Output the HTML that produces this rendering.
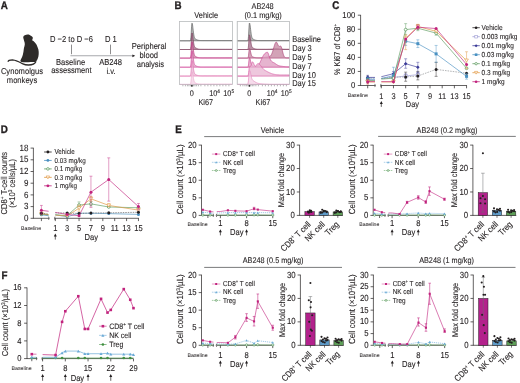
<!DOCTYPE html>
<html><head><meta charset="utf-8"><style>
html,body{margin:0;padding:0;background:#fff;width:520px;height:383px;overflow:hidden}
svg{display:block;will-change:transform}
text{font-family:"Liberation Sans", sans-serif;fill:#231f20;stroke:#231f20;stroke-width:0.09px;text-rendering:geometricPrecision}
</style></head><body>
<svg width="520" height="383" viewBox="0 0 520 383">
<rect width="520" height="383" fill="#fff"/>
<text font-size="9.8" font-weight="bold" style="stroke-width:0.3px" transform="translate(0.8 8.6) scale(1 1.13)">A</text>
<path d="M27.6,34.4 C29.2,34.4 30.4,35.1 30.9,35.8 C32,36.3 32.9,37 32.8,37.8 L32.6,39.3 C32.4,39.7 32.1,39.9 31.8,40.1 C33.3,40.9 34.3,41.8 35.1,42.8 C36.3,44.1 37.1,45.5 37.5,47.1 C38.3,48.8 38.7,50.3 38.7,51.8 C38.8,53.5 38.7,55 38.4,56.5 C38,58 37.6,59.2 37,60.2 C36.4,61 35.8,61.6 35.1,62.1 L33.2,62.1 C30,62.3 24,62.3 21.5,61.9 C20.6,61.6 20.2,61 20.5,60.2 C21.5,58.5 22.4,56.8 22.9,54.6 C23.4,52.5 23.6,50.5 23.8,48.9 C24.2,47 24.7,45.6 24.8,44.2 C24.8,43 24.6,42.2 24.3,41.4 C24,40.6 23.7,39.8 23.6,39.1 C23.3,38.2 23.1,37.3 23.3,36.7 C23.6,35.9 24.1,35.5 24.8,35.3 C25.7,34.7 26.6,34.4 27.6,34.4 Z" fill="#2e2b29" stroke="none" stroke-width="0.7" />
<path d="M35.8,61.8 C35,63.8 31.5,65 28.5,65 C26,65 24.5,64.7 22.9,63.9 C20.5,62.7 19,61.7 17.2,61.1 C15.5,60.4 14,59.9 12.5,59.8 C11,59.8 9.8,60 9.2,60.3 C8.7,60.6 8.4,60.9 8.2,61.3" fill="none" stroke="#2e2b29" stroke-width="1.35" stroke-linecap="round"/>
<text font-size="7.6" text-anchor="middle" transform="translate(22 74) scale(1 1.13)">Cynomolgus</text>
<text font-size="7.6" text-anchor="middle" transform="translate(22 83.3) scale(1 1.13)">monkeys</text>
<text font-size="7.6" text-anchor="middle" transform="translate(71.5 42) scale(1 1.13)">D −2 to D −6</text>
<text font-size="7.6" text-anchor="middle" transform="translate(110.8 42) scale(1 1.13)">D 1</text>
<line x1="70.4" y1="55.8" x2="133.2" y2="55.8" stroke="#a7a9ac" stroke-width="1.1"/>
<line x1="71.5" y1="44.6" x2="71.5" y2="54.2" stroke="#414042" stroke-width="0.6"/>
<line x1="110.5" y1="44.6" x2="110.5" y2="54.2" stroke="#414042" stroke-width="0.6"/>
<path d="M135.2,55.8 L132.4,54.4 L132.4,57.2 Z" fill="#231f20" stroke="none" stroke-width="0.7" />
<text font-size="7.6" text-anchor="middle" transform="translate(70.6 64.6) scale(1 1.13)">Baseline</text>
<text font-size="7.6" text-anchor="middle" transform="translate(71.4 73.4) scale(1 1.13)">assessment</text>
<text font-size="7.6" text-anchor="middle" transform="translate(110.6 64.6) scale(1 1.13)">AB248</text>
<text font-size="7.6" text-anchor="middle" transform="translate(111 74) scale(1 1.13)">i.v.</text>
<text font-size="7.6" text-anchor="middle" transform="translate(149 48.5) scale(1 1.13)">Peripheral</text>
<text font-size="7.6" text-anchor="middle" transform="translate(148.8 57.5) scale(1 1.13)">blood</text>
<text font-size="7.6" text-anchor="middle" transform="translate(150.4 66.5) scale(1 1.13)">analysis</text>
<text font-size="9.8" font-weight="bold" style="stroke-width:0.3px" transform="translate(174.6 8.6) scale(1 1.13)">B</text>
<text font-size="7.4" text-anchor="middle" transform="translate(206.2 17.8) scale(1 1.13)">Vehicle</text>
<text font-size="7.4" text-anchor="middle" transform="translate(262.6 8.9) scale(1 1.13)">AB248</text>
<text font-size="7.4" text-anchor="middle" transform="translate(263.1 17.8) scale(1 1.13)">(0.1 mg/kg)</text>
<rect x="179.5" y="21.6" width="52.9" height="63" fill="white" stroke="#bcbec0" stroke-width="0.6"/>
<rect x="237.2" y="21.6" width="52.3" height="63" fill="white" stroke="#bcbec0" stroke-width="0.6"/>
<path d="M179.8,40.8 L179.8,40.8 L180.13,40.8 L180.45,40.8 L180.78,40.8 L181.11,40.8 L181.43,40.8 L181.76,40.8 L182.09,40.8 L182.42,40.8 L182.74,40.8 L183.07,40.8 L183.4,40.8 L183.72,40.8 L184.05,40.8 L184.38,40.8 L184.7,40.8 L185.03,40.8 L185.36,40.8 L185.68,40.8 L186.01,40.8 L186.34,40.8 L186.66,40.8 L186.99,40.8 L187.32,40.8 L187.65,40.8 L187.97,40.8 L188.3,40.8 L188.63,40.8 L188.95,40.8 L189.28,40.8 L189.61,40.8 L189.93,40.77 L190.26,40.59 L190.59,39.79 L190.91,37.32 L191.24,32.36 L191.57,26.32 L191.89,23.24 L192.22,23.36 L192.55,24.96 L192.88,27.39 L193.2,30.16 L193.53,32.83 L193.86,35.03 L194.18,36.61 L194.51,37.65 L194.84,38.3 L195.16,38.71 L195.49,38.98 L195.82,39.19 L196.14,39.37 L196.47,39.54 L196.8,39.69 L197.12,39.84 L197.45,39.96 L197.78,40.08 L198.11,40.18 L198.43,40.26 L198.76,40.33 L199.09,40.38 L199.41,40.43 L199.74,40.46 L200.07,40.49 L200.39,40.5 L200.72,40.52 L201.05,40.53 L201.37,40.54 L201.7,40.54 L202.03,40.54 L202.35,40.55 L202.68,40.55 L203.01,40.55 L203.34,40.55 L203.66,40.55 L203.99,40.55 L204.32,40.55 L204.64,40.55 L204.97,40.55 L205.3,40.55 L205.62,40.55 L205.95,40.55 L206.28,40.55 L206.6,40.55 L206.93,40.55 L207.26,40.55 L207.58,40.55 L207.91,40.55 L208.24,40.55 L208.56,40.55 L208.89,40.55 L209.22,40.55 L209.55,40.55 L209.87,40.55 L210.2,40.55 L210.53,40.55 L210.85,40.55 L211.18,40.55 L211.51,40.55 L211.83,40.55 L212.16,40.55 L212.49,40.55 L212.81,40.55 L213.14,40.55 L213.47,40.55 L213.8,40.55 L214.12,40.55 L214.45,40.55 L214.78,40.55 L215.1,40.55 L215.43,40.55 L215.76,40.55 L216.08,40.55 L216.41,40.55 L216.74,40.55 L217.06,40.55 L217.39,40.55 L217.72,40.55 L218.04,40.55 L218.37,40.55 L218.7,40.55 L219.03,40.55 L219.35,40.55 L219.68,40.55 L220.01,40.55 L220.33,40.55 L220.66,40.55 L220.99,40.55 L221.31,40.55 L221.64,40.55 L221.97,40.55 L222.29,40.55 L222.62,40.55 L222.95,40.55 L223.27,40.55 L223.6,40.55 L223.93,40.55 L224.25,40.55 L224.58,40.55 L224.91,40.55 L225.24,40.55 L225.56,40.55 L225.89,40.55 L226.22,40.55 L226.54,40.55 L226.87,40.55 L227.2,40.55 L227.52,40.55 L227.85,40.55 L228.18,40.55 L228.5,40.55 L228.83,40.55 L229.16,40.55 L229.49,40.55 L229.81,40.55 L230.14,40.55 L230.47,40.55 L230.79,40.55 L231.12,40.55 L231.45,40.55 L231.77,40.55 L232.1,40.55 L232.1,40.8 Z" fill="#999999" stroke="#58595b" stroke-width="0.6" fill-opacity="0.75" stroke-linejoin="round"/>
<path d="M179.8,49.5 L179.8,49.5 L180.13,49.5 L180.45,49.5 L180.78,49.5 L181.11,49.5 L181.43,49.5 L181.76,49.5 L182.09,49.5 L182.42,49.5 L182.74,49.5 L183.07,49.5 L183.4,49.5 L183.72,49.5 L184.05,49.5 L184.38,49.5 L184.7,49.5 L185.03,49.5 L185.36,49.5 L185.68,49.5 L186.01,49.5 L186.34,49.5 L186.66,49.5 L186.99,49.5 L187.32,49.5 L187.65,49.5 L187.97,49.5 L188.3,49.5 L188.63,49.5 L188.95,49.5 L189.28,49.5 L189.61,49.5 L189.93,49.47 L190.26,49.3 L190.59,48.55 L190.91,46.23 L191.24,41.55 L191.57,35.88 L191.89,32.97 L192.22,33.07 L192.55,34.58 L192.88,36.87 L193.2,39.47 L193.53,41.98 L193.86,44.05 L194.18,45.54 L194.51,46.52 L194.84,47.13 L195.16,47.51 L195.49,47.77 L195.82,47.97 L196.14,48.14 L196.47,48.3 L196.8,48.44 L197.12,48.58 L197.45,48.7 L197.78,48.81 L198.11,48.9 L198.43,48.98 L198.76,49.04 L199.09,49.09 L199.41,49.13 L199.74,49.16 L200.07,49.19 L200.39,49.21 L200.72,49.22 L201.05,49.23 L201.37,49.24 L201.7,49.24 L202.03,49.24 L202.35,49.25 L202.68,49.25 L203.01,49.25 L203.34,49.25 L203.66,49.25 L203.99,49.25 L204.32,49.25 L204.64,49.25 L204.97,49.25 L205.3,49.25 L205.62,49.25 L205.95,49.25 L206.28,49.25 L206.6,49.25 L206.93,49.25 L207.26,49.25 L207.58,49.25 L207.91,49.25 L208.24,49.25 L208.56,49.25 L208.89,49.25 L209.22,49.25 L209.55,49.25 L209.87,49.25 L210.2,49.25 L210.53,49.25 L210.85,49.25 L211.18,49.25 L211.51,49.25 L211.83,49.25 L212.16,49.25 L212.49,49.25 L212.81,49.25 L213.14,49.25 L213.47,49.25 L213.8,49.25 L214.12,49.25 L214.45,49.25 L214.78,49.25 L215.1,49.25 L215.43,49.25 L215.76,49.25 L216.08,49.25 L216.41,49.25 L216.74,49.25 L217.06,49.25 L217.39,49.25 L217.72,49.25 L218.04,49.25 L218.37,49.25 L218.7,49.25 L219.03,49.25 L219.35,49.25 L219.68,49.25 L220.01,49.25 L220.33,49.25 L220.66,49.25 L220.99,49.25 L221.31,49.25 L221.64,49.25 L221.97,49.25 L222.29,49.25 L222.62,49.25 L222.95,49.25 L223.27,49.25 L223.6,49.25 L223.93,49.25 L224.25,49.25 L224.58,49.25 L224.91,49.25 L225.24,49.25 L225.56,49.25 L225.89,49.25 L226.22,49.25 L226.54,49.25 L226.87,49.25 L227.2,49.25 L227.52,49.25 L227.85,49.25 L228.18,49.25 L228.5,49.25 L228.83,49.25 L229.16,49.25 L229.49,49.25 L229.81,49.25 L230.14,49.25 L230.47,49.25 L230.79,49.25 L231.12,49.25 L231.45,49.25 L231.77,49.25 L232.1,49.25 L232.1,49.5 Z" fill="#a26a85" stroke="#7b3b5b" stroke-width="0.6" fill-opacity="0.75" stroke-linejoin="round"/>
<path d="M179.8,58.1 L179.8,58.1 L180.13,58.1 L180.45,58.1 L180.78,58.1 L181.11,58.1 L181.43,58.1 L181.76,58.1 L182.09,58.1 L182.42,58.1 L182.74,58.1 L183.07,58.1 L183.4,58.1 L183.72,58.1 L184.05,58.1 L184.38,58.1 L184.7,58.1 L185.03,58.1 L185.36,58.1 L185.68,58.1 L186.01,58.1 L186.34,58.1 L186.66,58.1 L186.99,58.1 L187.32,58.1 L187.65,58.1 L187.97,58.1 L188.3,58.1 L188.63,58.1 L188.95,58.1 L189.28,58.1 L189.61,58.1 L189.93,58.07 L190.26,57.91 L190.59,57.18 L190.91,54.93 L191.24,50.4 L191.57,44.9 L191.89,42.09 L192.22,42.18 L192.55,43.64 L192.88,45.86 L193.2,48.38 L193.53,50.81 L193.86,52.82 L194.18,54.26 L194.51,55.21 L194.84,55.8 L195.16,56.17 L195.49,56.42 L195.82,56.61 L196.14,56.78 L196.47,56.93 L196.8,57.07 L197.12,57.2 L197.45,57.32 L197.78,57.42 L198.11,57.51 L198.43,57.58 L198.76,57.65 L199.09,57.7 L199.41,57.74 L199.74,57.77 L200.07,57.79 L200.39,57.81 L200.72,57.82 L201.05,57.83 L201.37,57.84 L201.7,57.84 L202.03,57.84 L202.35,57.85 L202.68,57.85 L203.01,57.85 L203.34,57.85 L203.66,57.85 L203.99,57.85 L204.32,57.85 L204.64,57.85 L204.97,57.85 L205.3,57.85 L205.62,57.85 L205.95,57.85 L206.28,57.85 L206.6,57.85 L206.93,57.85 L207.26,57.85 L207.58,57.85 L207.91,57.85 L208.24,57.85 L208.56,57.85 L208.89,57.85 L209.22,57.85 L209.55,57.85 L209.87,57.85 L210.2,57.85 L210.53,57.85 L210.85,57.85 L211.18,57.85 L211.51,57.85 L211.83,57.85 L212.16,57.85 L212.49,57.85 L212.81,57.85 L213.14,57.85 L213.47,57.85 L213.8,57.85 L214.12,57.85 L214.45,57.85 L214.78,57.85 L215.1,57.85 L215.43,57.85 L215.76,57.85 L216.08,57.85 L216.41,57.85 L216.74,57.85 L217.06,57.85 L217.39,57.85 L217.72,57.85 L218.04,57.85 L218.37,57.85 L218.7,57.85 L219.03,57.85 L219.35,57.85 L219.68,57.85 L220.01,57.85 L220.33,57.85 L220.66,57.85 L220.99,57.85 L221.31,57.85 L221.64,57.85 L221.97,57.85 L222.29,57.85 L222.62,57.85 L222.95,57.85 L223.27,57.85 L223.6,57.85 L223.93,57.85 L224.25,57.85 L224.58,57.85 L224.91,57.85 L225.24,57.85 L225.56,57.85 L225.89,57.85 L226.22,57.85 L226.54,57.85 L226.87,57.85 L227.2,57.85 L227.52,57.85 L227.85,57.85 L228.18,57.85 L228.5,57.85 L228.83,57.85 L229.16,57.85 L229.49,57.85 L229.81,57.85 L230.14,57.85 L230.47,57.85 L230.79,57.85 L231.12,57.85 L231.45,57.85 L231.77,57.85 L232.1,57.85 L232.1,58.1 Z" fill="#c4849f" stroke="#c02a7e" stroke-width="0.6" fill-opacity="0.75" stroke-linejoin="round"/>
<path d="M179.8,67.2 L179.8,67.2 L180.13,67.2 L180.45,67.2 L180.78,67.2 L181.11,67.2 L181.43,67.2 L181.76,67.2 L182.09,67.2 L182.42,67.2 L182.74,67.2 L183.07,67.2 L183.4,67.2 L183.72,67.2 L184.05,67.2 L184.38,67.2 L184.7,67.2 L185.03,67.2 L185.36,67.2 L185.68,67.2 L186.01,67.2 L186.34,67.2 L186.66,67.2 L186.99,67.2 L187.32,67.2 L187.65,67.2 L187.97,67.2 L188.3,67.2 L188.63,67.2 L188.95,67.2 L189.28,67.2 L189.61,67.2 L189.93,67.17 L190.26,67.01 L190.59,66.28 L190.91,64.03 L191.24,59.5 L191.57,54 L191.89,51.19 L192.22,51.28 L192.55,52.74 L192.88,54.96 L193.2,57.48 L193.53,59.91 L193.86,61.92 L194.18,63.36 L194.51,64.31 L194.84,64.9 L195.16,65.27 L195.49,65.52 L195.82,65.71 L196.14,65.88 L196.47,66.03 L196.8,66.17 L197.12,66.3 L197.45,66.42 L197.78,66.52 L198.11,66.61 L198.43,66.68 L198.76,66.75 L199.09,66.8 L199.41,66.84 L199.74,66.87 L200.07,66.89 L200.39,66.91 L200.72,66.92 L201.05,66.93 L201.37,66.94 L201.7,66.94 L202.03,66.94 L202.35,66.95 L202.68,66.95 L203.01,66.95 L203.34,66.95 L203.66,66.95 L203.99,66.95 L204.32,66.95 L204.64,66.95 L204.97,66.95 L205.3,66.95 L205.62,66.95 L205.95,66.95 L206.28,66.95 L206.6,66.95 L206.93,66.95 L207.26,66.95 L207.58,66.95 L207.91,66.95 L208.24,66.95 L208.56,66.95 L208.89,66.95 L209.22,66.95 L209.55,66.95 L209.87,66.95 L210.2,66.95 L210.53,66.95 L210.85,66.95 L211.18,66.95 L211.51,66.95 L211.83,66.95 L212.16,66.95 L212.49,66.95 L212.81,66.95 L213.14,66.95 L213.47,66.95 L213.8,66.95 L214.12,66.95 L214.45,66.95 L214.78,66.95 L215.1,66.95 L215.43,66.95 L215.76,66.95 L216.08,66.95 L216.41,66.95 L216.74,66.95 L217.06,66.95 L217.39,66.95 L217.72,66.95 L218.04,66.95 L218.37,66.95 L218.7,66.95 L219.03,66.95 L219.35,66.95 L219.68,66.95 L220.01,66.95 L220.33,66.95 L220.66,66.95 L220.99,66.95 L221.31,66.95 L221.64,66.95 L221.97,66.95 L222.29,66.95 L222.62,66.95 L222.95,66.95 L223.27,66.95 L223.6,66.95 L223.93,66.95 L224.25,66.95 L224.58,66.95 L224.91,66.95 L225.24,66.95 L225.56,66.95 L225.89,66.95 L226.22,66.95 L226.54,66.95 L226.87,66.95 L227.2,66.95 L227.52,66.95 L227.85,66.95 L228.18,66.95 L228.5,66.95 L228.83,66.95 L229.16,66.95 L229.49,66.95 L229.81,66.95 L230.14,66.95 L230.47,66.95 L230.79,66.95 L231.12,66.95 L231.45,66.95 L231.77,66.95 L232.1,66.95 L232.1,67.2 Z" fill="#dd9bbf" stroke="#d2449a" stroke-width="0.6" fill-opacity="0.75" stroke-linejoin="round"/>
<path d="M179.8,76.1 L179.8,76.1 L180.13,76.1 L180.45,76.1 L180.78,76.1 L181.11,76.1 L181.43,76.1 L181.76,76.1 L182.09,76.1 L182.42,76.1 L182.74,76.1 L183.07,76.1 L183.4,76.1 L183.72,76.1 L184.05,76.1 L184.38,76.1 L184.7,76.1 L185.03,76.1 L185.36,76.1 L185.68,76.1 L186.01,76.1 L186.34,76.1 L186.66,76.1 L186.99,76.1 L187.32,76.1 L187.65,76.1 L187.97,76.1 L188.3,76.1 L188.63,76.1 L188.95,76.1 L189.28,76.1 L189.61,76.1 L189.93,76.07 L190.26,75.91 L190.59,75.21 L190.91,73.03 L191.24,68.65 L191.57,63.33 L191.89,60.6 L192.22,60.68 L192.55,62.1 L192.88,64.24 L193.2,66.68 L193.53,69.04 L193.86,70.98 L194.18,72.37 L194.51,73.29 L194.84,73.86 L195.16,74.22 L195.49,74.47 L195.82,74.65 L196.14,74.81 L196.47,74.96 L196.8,75.1 L197.12,75.22 L197.45,75.33 L197.78,75.43 L198.11,75.52 L198.43,75.59 L198.76,75.65 L199.09,75.7 L199.41,75.74 L199.74,75.77 L200.07,75.79 L200.39,75.81 L200.72,75.82 L201.05,75.83 L201.37,75.84 L201.7,75.84 L202.03,75.84 L202.35,75.85 L202.68,75.85 L203.01,75.85 L203.34,75.85 L203.66,75.85 L203.99,75.85 L204.32,75.85 L204.64,75.85 L204.97,75.85 L205.3,75.85 L205.62,75.85 L205.95,75.85 L206.28,75.85 L206.6,75.85 L206.93,75.85 L207.26,75.85 L207.58,75.85 L207.91,75.85 L208.24,75.85 L208.56,75.85 L208.89,75.85 L209.22,75.85 L209.55,75.85 L209.87,75.85 L210.2,75.85 L210.53,75.85 L210.85,75.85 L211.18,75.85 L211.51,75.85 L211.83,75.85 L212.16,75.85 L212.49,75.85 L212.81,75.85 L213.14,75.85 L213.47,75.85 L213.8,75.85 L214.12,75.85 L214.45,75.85 L214.78,75.85 L215.1,75.85 L215.43,75.85 L215.76,75.85 L216.08,75.85 L216.41,75.85 L216.74,75.85 L217.06,75.85 L217.39,75.85 L217.72,75.85 L218.04,75.85 L218.37,75.85 L218.7,75.85 L219.03,75.85 L219.35,75.85 L219.68,75.85 L220.01,75.85 L220.33,75.85 L220.66,75.85 L220.99,75.85 L221.31,75.85 L221.64,75.85 L221.97,75.85 L222.29,75.85 L222.62,75.85 L222.95,75.85 L223.27,75.85 L223.6,75.85 L223.93,75.85 L224.25,75.85 L224.58,75.85 L224.91,75.85 L225.24,75.85 L225.56,75.85 L225.89,75.85 L226.22,75.85 L226.54,75.85 L226.87,75.85 L227.2,75.85 L227.52,75.85 L227.85,75.85 L228.18,75.85 L228.5,75.85 L228.83,75.85 L229.16,75.85 L229.49,75.85 L229.81,75.85 L230.14,75.85 L230.47,75.85 L230.79,75.85 L231.12,75.85 L231.45,75.85 L231.77,75.85 L232.1,75.85 L232.1,76.1 Z" fill="#e8b4d2" stroke="#e070b0" stroke-width="0.6" fill-opacity="0.75" stroke-linejoin="round"/>
<path d="M179.8,84.4 L179.8,84.4 L180.13,84.4 L180.45,84.4 L180.78,84.4 L181.11,84.4 L181.43,84.4 L181.76,84.4 L182.09,84.4 L182.42,84.4 L182.74,84.4 L183.07,84.4 L183.4,84.4 L183.72,84.4 L184.05,84.4 L184.38,84.4 L184.7,84.4 L185.03,84.4 L185.36,84.4 L185.68,84.4 L186.01,84.4 L186.34,84.4 L186.66,84.4 L186.99,84.4 L187.32,84.4 L187.65,84.4 L187.97,84.4 L188.3,84.4 L188.63,84.4 L188.95,84.4 L189.28,84.4 L189.61,84.4 L189.93,84.38 L190.26,84.25 L190.59,83.69 L190.91,81.95 L191.24,78.44 L191.57,74.18 L191.89,72 L192.22,72.02 L192.55,73.15 L192.88,74.86 L193.2,76.82 L193.53,78.7 L193.86,80.25 L194.18,81.37 L194.51,82.1 L194.84,82.56 L195.16,82.85 L195.49,83.04 L195.82,83.19 L196.14,83.32 L196.47,83.44 L196.8,83.55 L197.12,83.65 L197.45,83.74 L197.78,83.82 L198.11,83.89 L198.43,83.94 L198.76,83.99 L199.09,84.03 L199.41,84.06 L199.74,84.09 L200.07,84.1 L200.39,84.12 L200.72,84.13 L201.05,84.13 L201.37,84.14 L201.7,84.14 L202.03,84.15 L202.35,84.15 L202.68,84.15 L203.01,84.15 L203.34,84.15 L203.66,84.15 L203.99,84.15 L204.32,84.15 L204.64,84.15 L204.97,84.15 L205.3,84.15 L205.62,84.15 L205.95,84.15 L206.28,84.15 L206.6,84.15 L206.93,84.15 L207.26,84.15 L207.58,84.15 L207.91,84.15 L208.24,84.15 L208.56,84.15 L208.89,84.15 L209.22,84.15 L209.55,84.15 L209.87,84.15 L210.2,84.15 L210.53,84.15 L210.85,84.15 L211.18,84.15 L211.51,84.15 L211.83,84.15 L212.16,84.15 L212.49,84.15 L212.81,84.15 L213.14,84.15 L213.47,84.15 L213.8,84.15 L214.12,84.15 L214.45,84.15 L214.78,84.15 L215.1,84.15 L215.43,84.15 L215.76,84.15 L216.08,84.15 L216.41,84.15 L216.74,84.15 L217.06,84.15 L217.39,84.15 L217.72,84.15 L218.04,84.15 L218.37,84.15 L218.7,84.15 L219.03,84.15 L219.35,84.15 L219.68,84.15 L220.01,84.15 L220.33,84.15 L220.66,84.15 L220.99,84.15 L221.31,84.15 L221.64,84.15 L221.97,84.15 L222.29,84.15 L222.62,84.15 L222.95,84.15 L223.27,84.15 L223.6,84.15 L223.93,84.15 L224.25,84.15 L224.58,84.15 L224.91,84.15 L225.24,84.15 L225.56,84.15 L225.89,84.15 L226.22,84.15 L226.54,84.15 L226.87,84.15 L227.2,84.15 L227.52,84.15 L227.85,84.15 L228.18,84.15 L228.5,84.15 L228.83,84.15 L229.16,84.15 L229.49,84.15 L229.81,84.15 L230.14,84.15 L230.47,84.15 L230.79,84.15 L231.12,84.15 L231.45,84.15 L231.77,84.15 L232.1,84.15 L232.1,84.4 Z" fill="#f3d0e4" stroke="#eca6cc" stroke-width="0.6" fill-opacity="0.75" stroke-linejoin="round"/>
<path d="M237.5,40.8 L237.5,40.8 L237.72,40.8 L237.93,40.8 L238.15,40.8 L238.36,40.8 L238.58,40.8 L238.79,40.8 L239.01,40.8 L239.22,40.8 L239.44,40.8 L239.65,40.8 L239.87,40.8 L240.09,40.8 L240.3,40.8 L240.52,40.8 L240.73,40.8 L240.95,40.8 L241.16,40.8 L241.38,40.8 L241.59,40.8 L241.81,40.8 L242.02,40.8 L242.24,40.8 L242.45,40.8 L242.67,40.8 L242.89,40.8 L243.1,40.8 L243.32,40.8 L243.53,40.8 L243.75,40.8 L243.96,40.8 L244.18,40.8 L244.39,40.8 L244.61,40.8 L244.82,40.8 L245.04,40.8 L245.25,40.8 L245.47,40.8 L245.69,40.8 L245.9,40.8 L246.12,40.8 L246.33,40.8 L246.55,40.8 L246.76,40.8 L246.98,40.8 L247.19,40.79 L247.41,40.77 L247.62,40.7 L247.84,40.48 L248.06,39.92 L248.27,38.68 L248.49,36.44 L248.7,33.06 L248.92,29 L249.13,25.34 L249.35,23.35 L249.56,23.01 L249.78,23.56 L249.99,24.63 L250.21,26.09 L250.42,27.81 L250.64,29.64 L250.86,31.45 L251.07,33.15 L251.29,34.62 L251.5,35.81 L251.72,36.74 L251.93,37.45 L252.15,37.96 L252.36,38.34 L252.58,38.62 L252.79,38.83 L253.01,39 L253.23,39.14 L253.44,39.26 L253.66,39.38 L253.87,39.49 L254.09,39.6 L254.3,39.7 L254.52,39.79 L254.73,39.88 L254.95,39.96 L255.16,40.04 L255.38,40.11 L255.59,40.17 L255.81,40.23 L256.03,40.28 L256.24,40.32 L256.46,40.36 L256.67,40.39 L256.89,40.42 L257.1,40.45 L257.32,40.47 L257.53,40.48 L257.75,40.5 L257.96,40.51 L258.18,40.52 L258.4,40.52 L258.61,40.53 L258.83,40.53 L259.04,40.54 L259.26,40.54 L259.47,40.54 L259.69,40.55 L259.9,40.55 L260.12,40.55 L260.33,40.55 L260.55,40.55 L260.76,40.55 L260.98,40.55 L261.2,40.55 L261.41,40.55 L261.63,40.55 L261.84,40.55 L262.06,40.55 L262.27,40.55 L262.49,40.55 L262.7,40.55 L262.92,40.55 L263.13,40.55 L263.35,40.55 L263.57,40.55 L263.78,40.55 L264,40.55 L264.21,40.55 L264.43,40.55 L264.64,40.55 L264.86,40.55 L265.07,40.55 L265.29,40.55 L265.5,40.55 L265.72,40.55 L265.94,40.55 L266.15,40.55 L266.37,40.55 L266.58,40.55 L266.8,40.55 L267.01,40.55 L267.23,40.55 L267.44,40.55 L267.66,40.55 L267.87,40.55 L268.09,40.55 L268.3,40.55 L268.52,40.55 L268.74,40.55 L268.95,40.55 L269.17,40.55 L269.38,40.55 L269.6,40.55 L269.81,40.55 L270.03,40.55 L270.24,40.55 L270.46,40.55 L270.67,40.55 L270.89,40.55 L271.11,40.55 L271.32,40.55 L271.54,40.55 L271.75,40.55 L271.97,40.55 L272.18,40.55 L272.4,40.55 L272.61,40.55 L272.83,40.55 L273.04,40.55 L273.26,40.55 L273.47,40.55 L273.69,40.55 L273.91,40.55 L274.12,40.55 L274.34,40.55 L274.55,40.55 L274.77,40.55 L274.98,40.55 L275.2,40.55 L275.41,40.55 L275.63,40.55 L275.84,40.55 L276.06,40.55 L276.27,40.55 L276.49,40.55 L276.71,40.55 L276.92,40.55 L277.14,40.55 L277.35,40.55 L277.57,40.55 L277.78,40.55 L278,40.55 L278.21,40.55 L278.43,40.55 L278.64,40.55 L278.86,40.55 L279.08,40.55 L279.29,40.55 L279.51,40.55 L279.72,40.55 L279.94,40.55 L280.15,40.55 L280.37,40.55 L280.58,40.55 L280.8,40.55 L281.01,40.55 L281.23,40.55 L281.44,40.55 L281.66,40.55 L281.88,40.55 L282.09,40.55 L282.31,40.55 L282.52,40.55 L282.74,40.55 L282.95,40.55 L283.17,40.55 L283.38,40.55 L283.6,40.55 L283.81,40.55 L284.03,40.55 L284.25,40.55 L284.46,40.55 L284.68,40.55 L284.89,40.55 L285.11,40.55 L285.32,40.55 L285.54,40.55 L285.75,40.55 L285.97,40.55 L286.18,40.55 L286.4,40.55 L286.62,40.55 L286.83,40.55 L287.05,40.55 L287.26,40.55 L287.48,40.55 L287.69,40.55 L287.91,40.55 L288.12,40.55 L288.34,40.55 L288.55,40.55 L288.77,40.55 L288.98,40.55 L289.2,40.55 L289.2,40.8 Z" fill="#999999" stroke="#666666" stroke-width="0.7" fill-opacity="0.75" stroke-linejoin="round"/>
<path d="M237.5,49.5 L237.5,49.5 L237.72,49.5 L237.93,49.5 L238.15,49.5 L238.36,49.5 L238.58,49.5 L238.79,49.5 L239.01,49.5 L239.22,49.5 L239.44,49.5 L239.65,49.5 L239.87,49.5 L240.09,49.5 L240.3,49.5 L240.52,49.5 L240.73,49.5 L240.95,49.5 L241.16,49.5 L241.38,49.5 L241.59,49.5 L241.81,49.5 L242.02,49.5 L242.24,49.5 L242.45,49.5 L242.67,49.5 L242.89,49.5 L243.1,49.5 L243.32,49.5 L243.53,49.5 L243.75,49.5 L243.96,49.5 L244.18,49.5 L244.39,49.5 L244.61,49.5 L244.82,49.5 L245.04,49.5 L245.25,49.5 L245.47,49.5 L245.69,49.5 L245.9,49.5 L246.12,49.5 L246.33,49.5 L246.55,49.5 L246.76,49.5 L246.98,49.5 L247.19,49.49 L247.41,49.48 L247.62,49.42 L247.84,49.24 L248.06,48.77 L248.27,47.76 L248.49,45.91 L248.7,43.13 L248.92,39.79 L249.13,36.77 L249.35,35.13 L249.56,34.8 L249.78,35.26 L249.99,36.14 L250.21,37.34 L250.42,38.76 L250.64,40.26 L250.86,41.76 L251.07,43.16 L251.29,44.36 L251.5,45.35 L251.72,46.12 L251.93,46.69 L252.15,47.12 L252.36,47.43 L252.58,47.66 L252.79,47.83 L253.01,47.97 L253.23,48.09 L253.44,48.19 L253.66,48.29 L253.87,48.38 L254.09,48.46 L254.3,48.55 L254.52,48.63 L254.73,48.7 L254.95,48.77 L255.16,48.83 L255.38,48.89 L255.59,48.94 L255.81,48.99 L256.03,49.03 L256.24,49.06 L256.46,49.09 L256.67,49.12 L256.89,49.15 L257.1,49.16 L257.32,49.18 L257.53,49.19 L257.75,49.21 L257.96,49.22 L258.18,49.22 L258.4,49.23 L258.61,49.23 L258.83,49.24 L259.04,49.24 L259.26,49.24 L259.47,49.24 L259.69,49.25 L259.9,49.25 L260.12,49.25 L260.33,49.25 L260.55,49.25 L260.76,49.25 L260.98,49.25 L261.2,49.25 L261.41,49.25 L261.63,49.25 L261.84,49.25 L262.06,49.25 L262.27,49.25 L262.49,49.25 L262.7,49.25 L262.92,49.25 L263.13,49.25 L263.35,49.25 L263.57,49.25 L263.78,49.25 L264,49.25 L264.21,49.25 L264.43,49.25 L264.64,49.25 L264.86,49.25 L265.07,49.25 L265.29,49.25 L265.5,49.25 L265.72,49.25 L265.94,49.25 L266.15,49.25 L266.37,49.25 L266.58,49.25 L266.8,49.24 L267.01,49.24 L267.23,49.24 L267.44,49.24 L267.66,49.24 L267.87,49.23 L268.09,49.23 L268.3,49.23 L268.52,49.22 L268.74,49.22 L268.95,49.21 L269.17,49.21 L269.38,49.2 L269.6,49.19 L269.81,49.18 L270.03,49.17 L270.24,49.15 L270.46,49.14 L270.67,49.13 L270.89,49.11 L271.11,49.09 L271.32,49.07 L271.54,49.05 L271.75,49.03 L271.97,49.01 L272.18,48.98 L272.4,48.96 L272.61,48.93 L272.83,48.91 L273.04,48.88 L273.26,48.85 L273.47,48.83 L273.69,48.8 L273.91,48.78 L274.12,48.76 L274.34,48.74 L274.55,48.72 L274.77,48.7 L274.98,48.68 L275.2,48.67 L275.41,48.66 L275.63,48.65 L275.84,48.65 L276.06,48.65 L276.27,48.65 L276.49,48.66 L276.71,48.67 L276.92,48.68 L277.14,48.69 L277.35,48.71 L277.57,48.73 L277.78,48.75 L278,48.77 L278.21,48.79 L278.43,48.82 L278.64,48.84 L278.86,48.87 L279.08,48.9 L279.29,48.92 L279.51,48.95 L279.72,48.97 L279.94,49 L280.15,49.02 L280.37,49.04 L280.58,49.06 L280.8,49.08 L281.01,49.1 L281.23,49.12 L281.44,49.13 L281.66,49.15 L281.88,49.16 L282.09,49.17 L282.31,49.18 L282.52,49.19 L282.74,49.2 L282.95,49.21 L283.17,49.22 L283.38,49.22 L283.6,49.23 L283.81,49.23 L284.03,49.23 L284.25,49.24 L284.46,49.24 L284.68,49.24 L284.89,49.24 L285.11,49.24 L285.32,49.25 L285.54,49.25 L285.75,49.25 L285.97,49.25 L286.18,49.25 L286.4,49.25 L286.62,49.25 L286.83,49.25 L287.05,49.25 L287.26,49.25 L287.48,49.25 L287.69,49.25 L287.91,49.25 L288.12,49.25 L288.34,49.25 L288.55,49.25 L288.77,49.25 L288.98,49.25 L289.2,49.25 L289.2,49.5 Z" fill="#a26a85" stroke="#874766" stroke-width="0.7" fill-opacity="0.75" stroke-linejoin="round"/>
<path d="M237.5,58.1 L237.5,58.1 L237.72,58.1 L237.93,58.1 L238.15,58.1 L238.36,58.1 L238.58,58.1 L238.79,58.1 L239.01,58.1 L239.22,58.1 L239.44,58.1 L239.65,58.1 L239.87,58.1 L240.09,58.1 L240.3,58.1 L240.52,58.1 L240.73,58.1 L240.95,58.1 L241.16,58.1 L241.38,58.1 L241.59,58.1 L241.81,58.1 L242.02,58.1 L242.24,58.1 L242.45,58.1 L242.67,58.1 L242.89,58.1 L243.1,58.1 L243.32,58.1 L243.53,58.1 L243.75,58.1 L243.96,58.1 L244.18,58.1 L244.39,58.1 L244.61,58.1 L244.82,58.1 L245.04,58.1 L245.25,58.1 L245.47,58.1 L245.69,58.1 L245.9,58.1 L246.12,58.1 L246.33,58.1 L246.55,58.1 L246.76,58.1 L246.98,58.1 L247.19,58.1 L247.41,58.09 L247.62,58.05 L247.84,57.93 L248.06,57.63 L248.27,56.98 L248.49,55.79 L248.7,54 L248.92,51.86 L249.13,49.92 L249.35,48.86 L249.56,48.56 L249.78,48.86 L249.99,49.42 L250.21,50.2 L250.42,51.1 L250.64,52.07 L250.86,53.03 L251.07,53.93 L251.29,54.71 L251.5,55.34 L251.72,55.84 L251.93,56.21 L252.15,56.48 L252.36,56.68 L252.58,56.83 L252.79,56.94 L253.01,57.03 L253.23,57.1 L253.44,57.17 L253.66,57.23 L253.87,57.29 L254.09,57.35 L254.3,57.4 L254.52,57.45 L254.73,57.5 L254.95,57.54 L255.16,57.58 L255.38,57.62 L255.59,57.65 L255.81,57.68 L256.03,57.71 L256.24,57.73 L256.46,57.75 L256.67,57.77 L256.89,57.78 L257.1,57.79 L257.32,57.8 L257.53,57.81 L257.75,57.82 L257.96,57.82 L258.18,57.83 L258.4,57.83 L258.61,57.83 L258.83,57.83 L259.04,57.83 L259.26,57.83 L259.47,57.83 L259.69,57.83 L259.9,57.83 L260.12,57.82 L260.33,57.82 L260.55,57.81 L260.76,57.81 L260.98,57.8 L261.2,57.79 L261.41,57.78 L261.63,57.77 L261.84,57.75 L262.06,57.74 L262.27,57.72 L262.49,57.7 L262.7,57.68 L262.92,57.66 L263.13,57.64 L263.35,57.61 L263.57,57.58 L263.78,57.55 L264,57.52 L264.21,57.49 L264.43,57.46 L264.64,57.42 L264.86,57.39 L265.07,57.35 L265.29,57.32 L265.5,57.28 L265.72,57.25 L265.94,57.21 L266.15,57.18 L266.37,57.15 L266.58,57.12 L266.8,57.09 L267.01,57.06 L267.23,57.04 L267.44,57.01 L267.66,56.98 L267.87,56.96 L268.09,56.93 L268.3,56.9 L268.52,56.86 L268.74,56.82 L268.95,56.77 L269.17,56.71 L269.38,56.63 L269.6,56.54 L269.81,56.42 L270.03,56.28 L270.24,56.11 L270.46,55.92 L270.67,55.68 L270.89,55.41 L271.11,55.09 L271.32,54.74 L271.54,54.33 L271.75,53.87 L271.97,53.37 L272.18,52.82 L272.4,52.22 L272.61,51.58 L272.83,50.9 L273.04,50.19 L273.26,49.45 L273.47,48.69 L273.69,47.93 L273.91,47.17 L274.12,46.42 L274.34,45.7 L274.55,45.01 L274.77,44.38 L274.98,43.81 L275.2,43.31 L275.41,42.89 L275.63,42.55 L275.84,42.31 L276.06,42.17 L276.27,42.11 L276.49,42.18 L276.71,42.37 L276.92,42.67 L277.14,43.05 L277.35,43.5 L277.57,43.98 L277.78,44.48 L278,44.96 L278.21,45.39 L278.43,45.76 L278.64,46.05 L278.86,46.25 L279.08,46.36 L279.29,46.38 L279.51,46.34 L279.72,46.25 L279.94,46.14 L280.15,46.05 L280.37,46.01 L280.58,46.04 L280.8,46.17 L281.01,46.43 L281.23,46.81 L281.44,47.32 L281.66,47.95 L281.88,48.68 L282.09,49.49 L282.31,50.35 L282.52,51.24 L282.74,52.12 L282.95,52.96 L283.17,53.75 L283.38,54.48 L283.6,55.12 L283.81,55.68 L284.03,56.16 L284.25,56.55 L284.46,56.87 L284.68,57.13 L284.89,57.32 L285.11,57.47 L285.32,57.59 L285.54,57.67 L285.75,57.73 L285.97,57.77 L286.18,57.8 L286.4,57.82 L286.62,57.83 L286.83,57.84 L287.05,57.84 L287.26,57.85 L287.48,57.85 L287.69,57.85 L287.91,57.85 L288.12,57.85 L288.34,57.85 L288.55,57.85 L288.77,57.85 L288.98,57.85 L289.2,57.85 L289.2,58.1 Z" fill="#c4849f" stroke="#b04a7c" stroke-width="0.7" fill-opacity="0.75" stroke-linejoin="round"/>
<path d="M237.5,67.2 L237.5,67.2 L237.72,67.2 L237.93,67.2 L238.15,67.2 L238.36,67.2 L238.58,67.2 L238.79,67.2 L239.01,67.2 L239.22,67.2 L239.44,67.2 L239.65,67.2 L239.87,67.2 L240.09,67.2 L240.3,67.2 L240.52,67.2 L240.73,67.2 L240.95,67.2 L241.16,67.2 L241.38,67.2 L241.59,67.2 L241.81,67.2 L242.02,67.2 L242.24,67.2 L242.45,67.2 L242.67,67.2 L242.89,67.2 L243.1,67.2 L243.32,67.2 L243.53,67.2 L243.75,67.2 L243.96,67.2 L244.18,67.2 L244.39,67.2 L244.61,67.2 L244.82,67.2 L245.04,67.2 L245.25,67.2 L245.47,67.2 L245.69,67.2 L245.9,67.2 L246.12,67.2 L246.33,67.2 L246.55,67.2 L246.76,67.2 L246.98,67.2 L247.19,67.2 L247.41,67.19 L247.62,67.15 L247.84,67.03 L248.06,66.73 L248.27,66.08 L248.49,64.89 L248.7,63.1 L248.92,60.95 L249.13,59.01 L249.35,57.96 L249.56,57.66 L249.78,57.95 L249.99,58.52 L250.21,59.29 L250.42,60.2 L250.64,61.17 L250.86,62.13 L251.07,63.02 L251.29,63.8 L251.5,64.43 L251.72,64.92 L251.93,65.29 L252.15,65.56 L252.36,65.76 L252.58,65.9 L252.79,66 L253.01,66.08 L253.23,66.15 L253.44,66.21 L253.66,66.26 L253.87,66.3 L254.09,66.34 L254.3,66.38 L254.52,66.41 L254.73,66.43 L254.95,66.44 L255.16,66.45 L255.38,66.45 L255.59,66.44 L255.81,66.42 L256.03,66.39 L256.24,66.34 L256.46,66.29 L256.67,66.21 L256.89,66.13 L257.1,66.03 L257.32,65.91 L257.53,65.77 L257.75,65.61 L257.96,65.43 L258.18,65.22 L258.4,65 L258.61,64.74 L258.83,64.47 L259.04,64.16 L259.26,63.83 L259.47,63.48 L259.69,63.1 L259.9,62.69 L260.12,62.26 L260.33,61.82 L260.55,61.36 L260.76,60.89 L260.98,60.4 L261.2,59.91 L261.41,59.42 L261.63,58.94 L261.84,58.46 L262.06,57.98 L262.27,57.53 L262.49,57.08 L262.7,56.66 L262.92,56.25 L263.13,55.87 L263.35,55.5 L263.57,55.16 L263.78,54.84 L264,54.54 L264.21,54.26 L264.43,54 L264.64,53.76 L264.86,53.54 L265.07,53.34 L265.29,53.15 L265.5,52.98 L265.72,52.83 L265.94,52.7 L266.15,52.58 L266.37,52.48 L266.58,52.4 L266.8,52.34 L267.01,52.29 L267.23,52.26 L267.44,52.27 L267.66,52.42 L267.87,52.69 L268.09,53.09 L268.3,53.59 L268.52,54.18 L268.74,54.82 L268.95,55.5 L269.17,56.2 L269.38,56.88 L269.6,57.55 L269.81,58.17 L270.03,58.74 L270.24,59.26 L270.46,59.71 L270.67,60.11 L270.89,60.45 L271.11,60.74 L271.32,60.99 L271.54,61.22 L271.75,61.42 L271.97,61.61 L272.18,61.79 L272.4,61.94 L272.61,62.08 L272.83,62.2 L273.04,62.31 L273.26,62.42 L273.47,62.53 L273.69,62.64 L273.91,62.76 L274.12,62.87 L274.34,63 L274.55,63.13 L274.77,63.27 L274.98,63.41 L275.2,63.55 L275.41,63.7 L275.63,63.85 L275.84,64.01 L276.06,64.16 L276.27,64.31 L276.49,64.46 L276.71,64.6 L276.92,64.74 L277.14,64.86 L277.35,64.99 L277.57,65.1 L277.78,65.21 L278,65.31 L278.21,65.41 L278.43,65.5 L278.64,65.58 L278.86,65.66 L279.08,65.73 L279.29,65.79 L279.51,65.85 L279.72,65.91 L279.94,65.96 L280.15,66.01 L280.37,66.05 L280.58,66.09 L280.8,66.13 L281.01,66.17 L281.23,66.2 L281.44,66.24 L281.66,66.27 L281.88,66.3 L282.09,66.32 L282.31,66.35 L282.52,66.38 L282.74,66.4 L282.95,66.43 L283.17,66.45 L283.38,66.47 L283.6,66.5 L283.81,66.52 L284.03,66.54 L284.25,66.56 L284.46,66.58 L284.68,66.6 L284.89,66.62 L285.11,66.63 L285.32,66.65 L285.54,66.67 L285.75,66.68 L285.97,66.7 L286.18,66.71 L286.4,66.73 L286.62,66.74 L286.83,66.75 L287.05,66.77 L287.26,66.78 L287.48,66.79 L287.69,66.8 L287.91,66.81 L288.12,66.82 L288.34,66.83 L288.55,66.84 L288.77,66.85 L288.98,66.85 L289.2,66.86 L289.2,67.2 Z" fill="#dd9bbf" stroke="#cc4a93" stroke-width="0.7" fill-opacity="0.75" stroke-linejoin="round"/>
<path d="M237.5,76.1 L237.5,76.1 L237.72,76.1 L237.93,76.1 L238.15,76.1 L238.36,76.1 L238.58,76.1 L238.79,76.1 L239.01,76.1 L239.22,76.1 L239.44,76.1 L239.65,76.1 L239.87,76.1 L240.09,76.1 L240.3,76.1 L240.52,76.1 L240.73,76.1 L240.95,76.1 L241.16,76.1 L241.38,76.1 L241.59,76.1 L241.81,76.1 L242.02,76.1 L242.24,76.1 L242.45,76.1 L242.67,76.1 L242.89,76.1 L243.1,76.1 L243.32,76.1 L243.53,76.1 L243.75,76.1 L243.96,76.1 L244.18,76.1 L244.39,76.1 L244.61,76.1 L244.82,76.1 L245.04,76.1 L245.25,76.1 L245.47,76.1 L245.69,76.1 L245.9,76.1 L246.12,76.1 L246.33,76.1 L246.55,76.1 L246.76,76.1 L246.98,76.1 L247.19,76.09 L247.41,76.08 L247.62,76.04 L247.84,75.93 L248.06,75.65 L248.27,75.04 L248.49,73.94 L248.7,72.28 L248.92,70.27 L249.13,68.39 L249.35,67.23 L249.56,66.63 L249.78,66.47 L249.99,66.43 L250.21,66.43 L250.42,66.39 L250.64,66.27 L250.86,66 L251.07,65.58 L251.29,65.01 L251.5,64.31 L251.72,63.58 L251.93,62.9 L252.15,62.34 L252.36,61.99 L252.58,61.87 L252.79,61.93 L253.01,62.13 L253.23,62.48 L253.44,62.93 L253.66,63.45 L253.87,64.01 L254.09,64.56 L254.3,65.07 L254.52,65.52 L254.73,65.87 L254.95,66.11 L255.16,66.23 L255.38,66.25 L255.59,66.16 L255.81,65.98 L256.03,65.73 L256.24,65.44 L256.46,65.11 L256.67,64.78 L256.89,64.46 L257.1,64.17 L257.32,63.93 L257.53,63.75 L257.75,63.64 L257.96,63.58 L258.18,63.56 L258.4,63.58 L258.61,63.64 L258.83,63.73 L259.04,63.85 L259.26,64.01 L259.47,64.19 L259.69,64.4 L259.9,64.63 L260.12,64.88 L260.33,65.15 L260.55,65.43 L260.76,65.72 L260.98,66.02 L261.2,66.32 L261.41,66.63 L261.63,66.93 L261.84,67.24 L262.06,67.53 L262.27,67.78 L262.49,68.03 L262.7,68.28 L262.92,68.52 L263.13,68.76 L263.35,69 L263.57,69.23 L263.78,69.45 L264,69.65 L264.21,69.84 L264.43,70.01 L264.64,70.17 L264.86,70.32 L265.07,70.45 L265.29,70.57 L265.5,70.68 L265.72,70.79 L265.94,70.88 L266.15,71.01 L266.37,71.14 L266.58,71.26 L266.8,71.39 L267.01,71.51 L267.23,71.62 L267.44,71.73 L267.66,71.84 L267.87,71.95 L268.09,72.06 L268.3,72.17 L268.52,72.27 L268.74,72.37 L268.95,72.48 L269.17,72.58 L269.38,72.68 L269.6,72.77 L269.81,72.87 L270.03,72.96 L270.24,73.06 L270.46,73.15 L270.67,73.24 L270.89,73.33 L271.11,73.41 L271.32,73.49 L271.54,73.57 L271.75,73.65 L271.97,73.73 L272.18,73.8 L272.4,73.87 L272.61,73.94 L272.83,74 L273.04,74.06 L273.26,74.12 L273.47,74.18 L273.69,74.23 L273.91,74.28 L274.12,74.33 L274.34,74.38 L274.55,74.42 L274.77,74.46 L274.98,74.5 L275.2,74.53 L275.41,74.57 L275.63,74.6 L275.84,74.63 L276.06,74.66 L276.27,74.68 L276.49,74.7 L276.71,74.73 L276.92,74.75 L277.14,74.77 L277.35,74.78 L277.57,74.8 L277.78,74.81 L278,74.83 L278.21,74.84 L278.43,74.85 L278.64,74.86 L278.86,74.87 L279.08,74.88 L279.29,74.89 L279.51,74.89 L279.72,74.9 L279.94,74.9 L280.15,74.91 L280.37,74.91 L280.58,74.92 L280.8,74.92 L281.01,74.92 L281.23,74.93 L281.44,74.93 L281.66,74.93 L281.88,74.93 L282.09,74.94 L282.31,74.94 L282.52,74.94 L282.74,74.94 L282.95,74.94 L283.17,74.94 L283.38,74.94 L283.6,74.94 L283.81,74.95 L284.03,74.95 L284.25,74.95 L284.46,74.95 L284.68,74.95 L284.89,74.95 L285.11,74.95 L285.32,74.95 L285.54,74.95 L285.75,74.95 L285.97,74.95 L286.18,74.95 L286.4,74.95 L286.62,74.95 L286.83,74.95 L287.05,74.95 L287.26,74.95 L287.48,74.95 L287.69,74.95 L287.91,74.95 L288.12,74.95 L288.34,74.95 L288.55,74.95 L288.77,74.95 L288.98,74.95 L289.2,74.95 L289.2,76.1 Z" fill="#e8b4d2" stroke="#d862a6" stroke-width="0.7" fill-opacity="0.75" stroke-linejoin="round"/>
<path d="M237.5,84.4 L237.5,84.4 L237.72,84.4 L237.93,84.4 L238.15,84.4 L238.36,84.4 L238.58,84.4 L238.79,84.4 L239.01,84.4 L239.22,84.4 L239.44,84.4 L239.65,84.4 L239.87,84.4 L240.09,84.4 L240.3,84.4 L240.52,84.4 L240.73,84.4 L240.95,84.4 L241.16,84.4 L241.38,84.4 L241.59,84.4 L241.81,84.4 L242.02,84.4 L242.24,84.4 L242.45,84.4 L242.67,84.4 L242.89,84.4 L243.1,84.4 L243.32,84.4 L243.53,84.4 L243.75,84.4 L243.96,84.4 L244.18,84.4 L244.39,84.4 L244.61,84.4 L244.82,84.4 L245.04,84.4 L245.25,84.4 L245.47,84.4 L245.69,84.4 L245.9,84.4 L246.12,84.4 L246.33,84.39 L246.55,84.39 L246.76,84.38 L246.98,84.37 L247.19,84.35 L247.41,84.29 L247.62,84.16 L247.84,83.85 L248.06,83.2 L248.27,82.03 L248.49,80.16 L248.7,77.62 L248.92,74.78 L249.13,72.29 L249.35,70.83 L249.56,70.48 L249.78,70.51 L249.99,70.86 L250.21,71.5 L250.42,72.36 L250.64,73.38 L250.86,74.5 L251.07,75.64 L251.29,76.7 L251.5,77.6 L251.72,78.35 L251.93,78.95 L252.15,79.43 L252.36,79.8 L252.58,80.08 L252.79,80.31 L253.01,80.5 L253.23,80.66 L253.44,80.81 L253.66,80.95 L253.87,81.09 L254.09,81.23 L254.3,81.37 L254.52,81.5 L254.73,81.64 L254.95,81.78 L255.16,81.92 L255.38,82.05 L255.59,82.18 L255.81,82.31 L256.03,82.43 L256.24,82.55 L256.46,82.67 L256.67,82.77 L256.89,82.87 L257.1,82.96 L257.32,83.05 L257.53,83.13 L257.75,83.2 L257.96,83.27 L258.18,83.33 L258.4,83.38 L258.61,83.44 L258.83,83.48 L259.04,83.53 L259.26,83.57 L259.47,83.6 L259.69,83.64 L259.9,83.67 L260.12,83.7 L260.33,83.73 L260.55,83.75 L260.76,83.78 L260.98,83.8 L261.2,83.83 L261.41,83.85 L261.63,83.87 L261.84,83.89 L262.06,83.91 L262.27,83.93 L262.49,83.95 L262.7,83.97 L262.92,83.98 L263.13,84 L263.35,84.02 L263.57,84.04 L263.78,84.05 L264,84.07 L264.21,84.09 L264.43,84.1 L264.64,84.12 L264.86,84.13 L265.07,84.14 L265.29,84.16 L265.5,84.17 L265.72,84.18 L265.94,84.2 L266.15,84.21 L266.37,84.22 L266.58,84.23 L266.8,84.24 L267.01,84.25 L267.23,84.26 L267.44,84.27 L267.66,84.28 L267.87,84.29 L268.09,84.29 L268.3,84.3 L268.52,84.31 L268.74,84.32 L268.95,84.32 L269.17,84.33 L269.38,84.33 L269.6,84.34 L269.81,84.34 L270.03,84.35 L270.24,84.35 L270.46,84.36 L270.67,84.36 L270.89,84.36 L271.11,84.37 L271.32,84.37 L271.54,84.37 L271.75,84.37 L271.97,84.38 L272.18,84.38 L272.4,84.38 L272.61,84.38 L272.83,84.38 L273.04,84.39 L273.26,84.39 L273.47,84.39 L273.69,84.39 L273.91,84.39 L274.12,84.39 L274.34,84.39 L274.55,84.39 L274.77,84.39 L274.98,84.39 L275.2,84.4 L275.41,84.4 L275.63,84.4 L275.84,84.4 L276.06,84.4 L276.27,84.4 L276.49,84.4 L276.71,84.4 L276.92,84.4 L277.14,84.4 L277.35,84.4 L277.57,84.4 L277.78,84.4 L278,84.4 L278.21,84.4 L278.43,84.4 L278.64,84.4 L278.86,84.4 L279.08,84.4 L279.29,84.4 L279.51,84.4 L279.72,84.4 L279.94,84.4 L280.15,84.4 L280.37,84.4 L280.58,84.4 L280.8,84.4 L281.01,84.4 L281.23,84.4 L281.44,84.4 L281.66,84.4 L281.88,84.4 L282.09,84.4 L282.31,84.4 L282.52,84.4 L282.74,84.4 L282.95,84.4 L283.17,84.4 L283.38,84.4 L283.6,84.4 L283.81,84.4 L284.03,84.4 L284.25,84.4 L284.46,84.4 L284.68,84.4 L284.89,84.4 L285.11,84.4 L285.32,84.4 L285.54,84.4 L285.75,84.4 L285.97,84.4 L286.18,84.4 L286.4,84.4 L286.62,84.4 L286.83,84.4 L287.05,84.4 L287.26,84.4 L287.48,84.4 L287.69,84.4 L287.91,84.4 L288.12,84.4 L288.34,84.4 L288.55,84.4 L288.77,84.4 L288.98,84.4 L289.2,84.4 L289.2,84.4 Z" fill="#f3d0e4" stroke="#e48cbe" stroke-width="0.7" fill-opacity="0.75" stroke-linejoin="round"/>
<rect x="179.5" y="21.6" width="52.9" height="63" fill="none" stroke="#bcbec0" stroke-width="0.6"/>
<rect x="237.2" y="21.6" width="52.3" height="63" fill="none" stroke="#bcbec0" stroke-width="0.6"/>
<line x1="182.9" y1="84.9" x2="182.9" y2="86.3" stroke="#58595b" stroke-width="0.45"/>
<line x1="185.4" y1="84.9" x2="185.4" y2="86.3" stroke="#58595b" stroke-width="0.45"/>
<line x1="187.4" y1="84.9" x2="187.4" y2="86.3" stroke="#58595b" stroke-width="0.45"/>
<line x1="188.9" y1="84.9" x2="188.9" y2="86.3" stroke="#58595b" stroke-width="0.45"/>
<line x1="190.4" y1="84.9" x2="190.4" y2="86.3" stroke="#58595b" stroke-width="0.45"/>
<line x1="191.9" y1="84.9" x2="191.9" y2="86.3" stroke="#58595b" stroke-width="0.45"/>
<line x1="193.4" y1="84.9" x2="193.4" y2="86.3" stroke="#58595b" stroke-width="0.45"/>
<line x1="194.9" y1="84.9" x2="194.9" y2="86.3" stroke="#58595b" stroke-width="0.45"/>
<line x1="196.4" y1="84.9" x2="196.4" y2="86.3" stroke="#58595b" stroke-width="0.45"/>
<line x1="198.4" y1="84.9" x2="198.4" y2="86.3" stroke="#58595b" stroke-width="0.45"/>
<line x1="200.9" y1="84.9" x2="200.9" y2="86.3" stroke="#58595b" stroke-width="0.45"/>
<line x1="204.9" y1="84.9" x2="204.9" y2="86.3" stroke="#58595b" stroke-width="0.45"/>
<line x1="207.9" y1="84.9" x2="207.9" y2="86.3" stroke="#58595b" stroke-width="0.45"/>
<line x1="210.9" y1="84.9" x2="210.9" y2="86.3" stroke="#58595b" stroke-width="0.45"/>
<line x1="213.9" y1="84.9" x2="213.9" y2="86.3" stroke="#58595b" stroke-width="0.45"/>
<line x1="216.9" y1="84.9" x2="216.9" y2="86.3" stroke="#58595b" stroke-width="0.45"/>
<line x1="219.9" y1="84.9" x2="219.9" y2="86.3" stroke="#58595b" stroke-width="0.45"/>
<line x1="222.9" y1="84.9" x2="222.9" y2="86.3" stroke="#58595b" stroke-width="0.45"/>
<line x1="225.9" y1="84.9" x2="225.9" y2="86.3" stroke="#58595b" stroke-width="0.45"/>
<line x1="228.9" y1="84.9" x2="228.9" y2="86.3" stroke="#58595b" stroke-width="0.45"/>
<circle cx="191.9" cy="85.8" r="0.9" fill="#231f20" stroke="none" stroke-width="0.5"/>
<line x1="240.4" y1="84.9" x2="240.4" y2="86.3" stroke="#58595b" stroke-width="0.45"/>
<line x1="242.9" y1="84.9" x2="242.9" y2="86.3" stroke="#58595b" stroke-width="0.45"/>
<line x1="244.9" y1="84.9" x2="244.9" y2="86.3" stroke="#58595b" stroke-width="0.45"/>
<line x1="246.4" y1="84.9" x2="246.4" y2="86.3" stroke="#58595b" stroke-width="0.45"/>
<line x1="247.9" y1="84.9" x2="247.9" y2="86.3" stroke="#58595b" stroke-width="0.45"/>
<line x1="249.4" y1="84.9" x2="249.4" y2="86.3" stroke="#58595b" stroke-width="0.45"/>
<line x1="250.9" y1="84.9" x2="250.9" y2="86.3" stroke="#58595b" stroke-width="0.45"/>
<line x1="252.4" y1="84.9" x2="252.4" y2="86.3" stroke="#58595b" stroke-width="0.45"/>
<line x1="253.9" y1="84.9" x2="253.9" y2="86.3" stroke="#58595b" stroke-width="0.45"/>
<line x1="255.9" y1="84.9" x2="255.9" y2="86.3" stroke="#58595b" stroke-width="0.45"/>
<line x1="258.4" y1="84.9" x2="258.4" y2="86.3" stroke="#58595b" stroke-width="0.45"/>
<line x1="262.4" y1="84.9" x2="262.4" y2="86.3" stroke="#58595b" stroke-width="0.45"/>
<line x1="265.4" y1="84.9" x2="265.4" y2="86.3" stroke="#58595b" stroke-width="0.45"/>
<line x1="268.4" y1="84.9" x2="268.4" y2="86.3" stroke="#58595b" stroke-width="0.45"/>
<line x1="271.4" y1="84.9" x2="271.4" y2="86.3" stroke="#58595b" stroke-width="0.45"/>
<line x1="274.4" y1="84.9" x2="274.4" y2="86.3" stroke="#58595b" stroke-width="0.45"/>
<line x1="277.4" y1="84.9" x2="277.4" y2="86.3" stroke="#58595b" stroke-width="0.45"/>
<line x1="280.4" y1="84.9" x2="280.4" y2="86.3" stroke="#58595b" stroke-width="0.45"/>
<line x1="283.4" y1="84.9" x2="283.4" y2="86.3" stroke="#58595b" stroke-width="0.45"/>
<line x1="286.4" y1="84.9" x2="286.4" y2="86.3" stroke="#58595b" stroke-width="0.45"/>
<circle cx="249.4" cy="85.8" r="0.9" fill="#231f20" stroke="none" stroke-width="0.5"/>
<text font-size="7.3" text-anchor="middle" transform="translate(191.9 96.3) scale(1 1.13)">0</text>
<text font-size="7.3" text-anchor="middle" transform="translate(214.6 96.3) scale(1 1.13)">10<tspan font-size="4.8" dy="-2.8">4</tspan></text>
<text font-size="7.3" text-anchor="middle" transform="translate(228.7 96.3) scale(1 1.13)">10<tspan font-size="4.8" dy="-2.8">5</tspan></text>
<text font-size="7.3" text-anchor="middle" transform="translate(249.4 96.3) scale(1 1.13)">0</text>
<text font-size="7.3" text-anchor="middle" transform="translate(272.1 96.3) scale(1 1.13)">10<tspan font-size="4.8" dy="-2.8">4</tspan></text>
<text font-size="7.3" text-anchor="middle" transform="translate(286.2 96.3) scale(1 1.13)">10<tspan font-size="4.8" dy="-2.8">5</tspan></text>
<text font-size="7.4" text-anchor="middle" transform="translate(205.8 105.3) scale(1 1.13)">Ki67</text>
<text font-size="7.4" text-anchor="middle" transform="translate(263 105.3) scale(1 1.13)">Ki67</text>
<text font-size="7.5" transform="translate(292.2 41.5) scale(1 1.13)">Baseline</text>
<text font-size="7.5" transform="translate(292.2 50.7) scale(1 1.13)">Day 3</text>
<text font-size="7.5" transform="translate(292.2 59.7) scale(1 1.13)">Day 5</text>
<text font-size="7.5" transform="translate(292.2 68.5) scale(1 1.13)">Day 7</text>
<text font-size="7.5" transform="translate(292.2 77.5) scale(1 1.13)">Day 10</text>
<text font-size="7.5" transform="translate(292.2 86.1) scale(1 1.13)">Day 15</text>
<text font-size="9.8" font-weight="bold" style="stroke-width:0.3px" transform="translate(332.3 8.6) scale(1 1.13)">C</text>
<line x1="360.6" y1="14.9" x2="360.6" y2="85.8" stroke="#231f20" stroke-width="0.7"/>
<line x1="357.8" y1="85.5" x2="360.6" y2="85.5" stroke="#231f20" stroke-width="0.7"/>
<text font-size="7.7" text-anchor="end" transform="translate(355.2 88.1) scale(1 1.13)">0</text>
<line x1="357.8" y1="71.44" x2="360.6" y2="71.44" stroke="#231f20" stroke-width="0.7"/>
<text font-size="7.7" text-anchor="end" transform="translate(355.2 74.04) scale(1 1.13)">20</text>
<line x1="357.8" y1="57.38" x2="360.6" y2="57.38" stroke="#231f20" stroke-width="0.7"/>
<text font-size="7.7" text-anchor="end" transform="translate(355.2 59.98) scale(1 1.13)">40</text>
<line x1="357.8" y1="43.32" x2="360.6" y2="43.32" stroke="#231f20" stroke-width="0.7"/>
<text font-size="7.7" text-anchor="end" transform="translate(355.2 45.92) scale(1 1.13)">60</text>
<line x1="357.8" y1="29.26" x2="360.6" y2="29.26" stroke="#231f20" stroke-width="0.7"/>
<text font-size="7.7" text-anchor="end" transform="translate(355.2 31.86) scale(1 1.13)">80</text>
<line x1="357.8" y1="15.2" x2="360.6" y2="15.2" stroke="#231f20" stroke-width="0.7"/>
<text font-size="7.7" text-anchor="end" transform="translate(355.2 17.8) scale(1 1.13)">100</text>
<text font-size="7.4" text-anchor="middle" transform="translate(340.1 49.5) rotate(-90) scale(1 1.13)">% Ki67 of CD8<tspan font-size="4.6" dy="-2.6">+</tspan></text>
<line x1="360.6" y1="85.5" x2="375.4" y2="85.5" stroke="#231f20" stroke-width="0.7"/>
<line x1="367.7" y1="85.5" x2="367.7" y2="88.3" stroke="#231f20" stroke-width="0.7"/>
<path d="M374.8,83.9 Q375.8,85.5 374.8,87.1" fill="none" stroke="#231f20" stroke-width="0.6" />
<line x1="380.9" y1="85.5" x2="466.9" y2="85.5" stroke="#231f20" stroke-width="0.7"/>
<path d="M381.1,83.9 Q380.1,85.5 381.1,87.1" fill="none" stroke="#231f20" stroke-width="0.6" />
<line x1="381.3" y1="85.5" x2="381.3" y2="88.3" stroke="#231f20" stroke-width="0.7"/>
<text font-size="7.4" text-anchor="middle" transform="translate(381.3 98.7) scale(1 1.13)">1</text>
<line x1="393.48" y1="85.5" x2="393.48" y2="88.3" stroke="#231f20" stroke-width="0.7"/>
<text font-size="7.4" text-anchor="middle" transform="translate(393.48 98.7) scale(1 1.13)">3</text>
<line x1="405.66" y1="85.5" x2="405.66" y2="88.3" stroke="#231f20" stroke-width="0.7"/>
<text font-size="7.4" text-anchor="middle" transform="translate(405.66 98.7) scale(1 1.13)">5</text>
<line x1="417.84" y1="85.5" x2="417.84" y2="88.3" stroke="#231f20" stroke-width="0.7"/>
<text font-size="7.4" text-anchor="middle" transform="translate(417.84 98.7) scale(1 1.13)">7</text>
<line x1="430.02" y1="85.5" x2="430.02" y2="88.3" stroke="#231f20" stroke-width="0.7"/>
<text font-size="7.4" text-anchor="middle" transform="translate(430.02 98.7) scale(1 1.13)">9</text>
<line x1="442.2" y1="85.5" x2="442.2" y2="88.3" stroke="#231f20" stroke-width="0.7"/>
<text font-size="7.4" text-anchor="middle" transform="translate(442.2 98.7) scale(1 1.13)">11</text>
<line x1="454.38" y1="85.5" x2="454.38" y2="88.3" stroke="#231f20" stroke-width="0.7"/>
<text font-size="7.4" text-anchor="middle" transform="translate(454.38 98.7) scale(1 1.13)">13</text>
<line x1="466.56" y1="85.5" x2="466.56" y2="88.3" stroke="#231f20" stroke-width="0.7"/>
<text font-size="7.4" text-anchor="middle" transform="translate(466.56 98.7) scale(1 1.13)">15</text>
<text font-size="5.25" text-anchor="end" transform="translate(367.8 96.7) scale(1 1)" style="stroke-width:0.04px">Baseline</text>
<line x1="381.3" y1="102.8" x2="381.3" y2="106.9" stroke="#231f20" stroke-width="0.7"/>
<path d="M381.3,101.1 L379.8,104.1 L382.8,104.1 Z" fill="#231f20" stroke="none" stroke-width="0.7" />
<text font-size="7.4" text-anchor="middle" transform="translate(412.4 107.2) scale(1 1.13)">Day</text>
<line x1="367.7" y1="79.88" x2="375" y2="79.88" stroke="#9b99d3" stroke-width="0.7"/>
<line x1="367.7" y1="81.98" x2="367.7" y2="77.77" stroke="#9b99d3" stroke-width="0.45"/>
<line x1="366.5" y1="81.98" x2="368.9" y2="81.98" stroke="#9b99d3" stroke-width="0.45"/>
<line x1="366.5" y1="77.77" x2="368.9" y2="77.77" stroke="#9b99d3" stroke-width="0.45"/>
<polyline points="381.3,78.47 393.48,77.42 405.66,76.01 417.84,74.6" fill="none" stroke="#9b99d3" stroke-width="0.65" stroke-linejoin="round"/>
<line x1="405.66" y1="78.47" x2="405.66" y2="73.55" stroke="#9b99d3" stroke-width="0.45"/>
<line x1="404.16" y1="78.47" x2="407.16" y2="78.47" stroke="#9b99d3" stroke-width="0.45"/>
<line x1="404.16" y1="73.55" x2="407.16" y2="73.55" stroke="#9b99d3" stroke-width="0.45"/>
<line x1="417.84" y1="77.06" x2="417.84" y2="72.14" stroke="#9b99d3" stroke-width="0.45"/>
<line x1="416.34" y1="77.06" x2="419.34" y2="77.06" stroke="#9b99d3" stroke-width="0.45"/>
<line x1="416.34" y1="72.14" x2="419.34" y2="72.14" stroke="#9b99d3" stroke-width="0.45"/>
<rect x="391.98" y="75.92" width="3" height="3" fill="white" stroke="#9b99d3" stroke-width="0.6"/>
<rect x="404.16" y="74.51" width="3" height="3" fill="white" stroke="#9b99d3" stroke-width="0.6"/>
<rect x="416.34" y="73.1" width="3" height="3" fill="white" stroke="#9b99d3" stroke-width="0.6"/>
<rect x="366.2" y="78.38" width="3" height="3" fill="white" stroke="#9b99d3" stroke-width="0.6"/>
<line x1="367.7" y1="78.12" x2="375" y2="78.12" stroke="#939598" stroke-width="0.7" stroke-dasharray="1.6,1"/>
<line x1="367.7" y1="80.23" x2="367.7" y2="76.01" stroke="#231f20" stroke-width="0.45"/>
<line x1="366.5" y1="80.23" x2="368.9" y2="80.23" stroke="#231f20" stroke-width="0.45"/>
<line x1="366.5" y1="76.01" x2="368.9" y2="76.01" stroke="#231f20" stroke-width="0.45"/>
<polyline points="381.3,78.47 393.48,77.2 405.66,76.92 417.84,76.01 436.11,69.4 466.56,73.2" fill="none" stroke="#939598" stroke-width="0.7" stroke-linejoin="round" stroke-dasharray="1.6,1"/>
<line x1="393.48" y1="79.88" x2="393.48" y2="74.95" stroke="#231f20" stroke-width="0.45"/>
<line x1="391.98" y1="79.88" x2="394.98" y2="79.88" stroke="#231f20" stroke-width="0.45"/>
<line x1="391.98" y1="74.95" x2="394.98" y2="74.95" stroke="#231f20" stroke-width="0.45"/>
<line x1="405.66" y1="81.28" x2="405.66" y2="72.14" stroke="#231f20" stroke-width="0.45"/>
<line x1="404.16" y1="81.28" x2="407.16" y2="81.28" stroke="#231f20" stroke-width="0.45"/>
<line x1="404.16" y1="72.14" x2="407.16" y2="72.14" stroke="#231f20" stroke-width="0.45"/>
<line x1="417.84" y1="79.88" x2="417.84" y2="71.44" stroke="#231f20" stroke-width="0.45"/>
<line x1="416.34" y1="79.88" x2="419.34" y2="79.88" stroke="#231f20" stroke-width="0.45"/>
<line x1="416.34" y1="71.44" x2="419.34" y2="71.44" stroke="#231f20" stroke-width="0.45"/>
<line x1="436.11" y1="76.36" x2="436.11" y2="62.3" stroke="#231f20" stroke-width="0.45"/>
<line x1="434.61" y1="76.36" x2="437.61" y2="76.36" stroke="#231f20" stroke-width="0.45"/>
<line x1="434.61" y1="62.3" x2="437.61" y2="62.3" stroke="#231f20" stroke-width="0.45"/>
<circle cx="393.48" cy="77.2" r="1.5" fill="#231f20" stroke="none" stroke-width="0.5"/>
<circle cx="405.66" cy="76.92" r="1.5" fill="#231f20" stroke="none" stroke-width="0.5"/>
<circle cx="417.84" cy="76.01" r="1.5" fill="#231f20" stroke="none" stroke-width="0.5"/>
<circle cx="436.11" cy="69.4" r="1.5" fill="#231f20" stroke="none" stroke-width="0.5"/>
<circle cx="466.56" cy="73.2" r="1.5" fill="#231f20" stroke="none" stroke-width="0.5"/>
<circle cx="367.7" cy="78.12" r="1.5" fill="#231f20" stroke="none" stroke-width="0.5"/>
<line x1="367.7" y1="77.42" x2="375" y2="77.42" stroke="#3b3b98" stroke-width="0.7"/>
<line x1="367.7" y1="79.52" x2="367.7" y2="75.31" stroke="#3b3b98" stroke-width="0.45"/>
<line x1="366.5" y1="79.52" x2="368.9" y2="79.52" stroke="#3b3b98" stroke-width="0.45"/>
<line x1="366.5" y1="75.31" x2="368.9" y2="75.31" stroke="#3b3b98" stroke-width="0.45"/>
<polyline points="381.3,76.71 393.48,73.69 405.66,63.71 417.84,67.22" fill="none" stroke="#3b3b98" stroke-width="0.65" stroke-linejoin="round"/>
<line x1="393.48" y1="77.06" x2="393.48" y2="71.44" stroke="#3b3b98" stroke-width="0.45"/>
<line x1="391.98" y1="77.06" x2="394.98" y2="77.06" stroke="#3b3b98" stroke-width="0.45"/>
<line x1="391.98" y1="71.44" x2="394.98" y2="71.44" stroke="#3b3b98" stroke-width="0.45"/>
<line x1="405.66" y1="68.28" x2="405.66" y2="58.79" stroke="#3b3b98" stroke-width="0.45"/>
<line x1="404.16" y1="68.28" x2="407.16" y2="68.28" stroke="#3b3b98" stroke-width="0.45"/>
<line x1="404.16" y1="58.79" x2="407.16" y2="58.79" stroke="#3b3b98" stroke-width="0.45"/>
<line x1="417.84" y1="72.85" x2="417.84" y2="62.3" stroke="#3b3b98" stroke-width="0.45"/>
<line x1="416.34" y1="72.85" x2="419.34" y2="72.85" stroke="#3b3b98" stroke-width="0.45"/>
<line x1="416.34" y1="62.3" x2="419.34" y2="62.3" stroke="#3b3b98" stroke-width="0.45"/>
<path d="M393.48,71.89L395.28,73.69L393.48,75.49L391.68,73.69Z" fill="#3b3b98" stroke="none" stroke-width="0.7" />
<path d="M405.66,61.91L407.46,63.71L405.66,65.51L403.86,63.71Z" fill="#3b3b98" stroke="none" stroke-width="0.7" />
<path d="M417.84,65.42L419.64,67.22L417.84,69.02L416.04,67.22Z" fill="#3b3b98" stroke="none" stroke-width="0.7" />
<path d="M367.7,75.62L369.5,77.42L367.7,79.22L365.9,77.42Z" fill="#3b3b98" stroke="none" stroke-width="0.7" />
<line x1="367.7" y1="79.17" x2="375" y2="79.17" stroke="#4a91c2" stroke-width="0.7"/>
<line x1="367.7" y1="81.28" x2="367.7" y2="77.06" stroke="#4a91c2" stroke-width="0.45"/>
<line x1="366.5" y1="81.28" x2="368.9" y2="81.28" stroke="#4a91c2" stroke-width="0.45"/>
<line x1="366.5" y1="77.06" x2="368.9" y2="77.06" stroke="#4a91c2" stroke-width="0.45"/>
<polyline points="381.3,78.47 393.48,75.66 405.66,41.21 417.84,43.67 436.11,53.87 466.56,76.36" fill="none" stroke="#4a91c2" stroke-width="0.65" stroke-linejoin="round"/>
<line x1="393.48" y1="78.47" x2="393.48" y2="67.22" stroke="#4a91c2" stroke-width="0.45"/>
<line x1="391.98" y1="78.47" x2="394.98" y2="78.47" stroke="#4a91c2" stroke-width="0.45"/>
<line x1="391.98" y1="67.22" x2="394.98" y2="67.22" stroke="#4a91c2" stroke-width="0.45"/>
<line x1="405.66" y1="45.43" x2="405.66" y2="37.7" stroke="#4a91c2" stroke-width="0.45"/>
<line x1="404.16" y1="45.43" x2="407.16" y2="45.43" stroke="#4a91c2" stroke-width="0.45"/>
<line x1="404.16" y1="37.7" x2="407.16" y2="37.7" stroke="#4a91c2" stroke-width="0.45"/>
<line x1="417.84" y1="47.54" x2="417.84" y2="39.8" stroke="#4a91c2" stroke-width="0.45"/>
<line x1="416.34" y1="47.54" x2="419.34" y2="47.54" stroke="#4a91c2" stroke-width="0.45"/>
<line x1="416.34" y1="39.8" x2="419.34" y2="39.8" stroke="#4a91c2" stroke-width="0.45"/>
<line x1="436.11" y1="62.3" x2="436.11" y2="45.43" stroke="#4a91c2" stroke-width="0.45"/>
<line x1="434.61" y1="62.3" x2="437.61" y2="62.3" stroke="#4a91c2" stroke-width="0.45"/>
<line x1="434.61" y1="45.43" x2="437.61" y2="45.43" stroke="#4a91c2" stroke-width="0.45"/>
<line x1="466.56" y1="79.17" x2="466.56" y2="73.55" stroke="#4a91c2" stroke-width="0.45"/>
<line x1="465.06" y1="79.17" x2="468.06" y2="79.17" stroke="#4a91c2" stroke-width="0.45"/>
<line x1="465.06" y1="73.55" x2="468.06" y2="73.55" stroke="#4a91c2" stroke-width="0.45"/>
<rect x="391.98" y="74.16" width="3" height="3" fill="#4a91c2" stroke="none" stroke-width="0.6"/>
<rect x="404.16" y="39.71" width="3" height="3" fill="#4a91c2" stroke="none" stroke-width="0.6"/>
<rect x="416.34" y="42.17" width="3" height="3" fill="#4a91c2" stroke="none" stroke-width="0.6"/>
<rect x="434.61" y="52.37" width="3" height="3" fill="#4a91c2" stroke="none" stroke-width="0.6"/>
<rect x="465.06" y="74.86" width="3" height="3" fill="#4a91c2" stroke="none" stroke-width="0.6"/>
<rect x="366.2" y="77.67" width="3" height="3" fill="#4a91c2" stroke="none" stroke-width="0.6"/>
<line x1="367.7" y1="80.58" x2="375" y2="80.58" stroke="#5b9a5d" stroke-width="0.7"/>
<line x1="367.7" y1="82.69" x2="367.7" y2="78.47" stroke="#5b9a5d" stroke-width="0.45"/>
<line x1="366.5" y1="82.69" x2="368.9" y2="82.69" stroke="#5b9a5d" stroke-width="0.45"/>
<line x1="366.5" y1="78.47" x2="368.9" y2="78.47" stroke="#5b9a5d" stroke-width="0.45"/>
<polyline points="381.3,79.17 393.48,78.12 405.66,29.61 417.84,28.21 436.11,33.13 466.56,68.28" fill="none" stroke="#5b9a5d" stroke-width="0.65" stroke-linejoin="round"/>
<line x1="405.66" y1="34.88" x2="405.66" y2="23.64" stroke="#5b9a5d" stroke-width="0.45"/>
<line x1="404.16" y1="34.88" x2="407.16" y2="34.88" stroke="#5b9a5d" stroke-width="0.45"/>
<line x1="404.16" y1="23.64" x2="407.16" y2="23.64" stroke="#5b9a5d" stroke-width="0.45"/>
<line x1="417.84" y1="30.67" x2="417.84" y2="25.04" stroke="#5b9a5d" stroke-width="0.45"/>
<line x1="416.34" y1="30.67" x2="419.34" y2="30.67" stroke="#5b9a5d" stroke-width="0.45"/>
<line x1="416.34" y1="25.04" x2="419.34" y2="25.04" stroke="#5b9a5d" stroke-width="0.45"/>
<line x1="436.11" y1="35.24" x2="436.11" y2="31.02" stroke="#5b9a5d" stroke-width="0.45"/>
<line x1="434.61" y1="35.24" x2="437.61" y2="35.24" stroke="#5b9a5d" stroke-width="0.45"/>
<line x1="434.61" y1="31.02" x2="437.61" y2="31.02" stroke="#5b9a5d" stroke-width="0.45"/>
<circle cx="393.48" cy="78.12" r="1.38" fill="white" stroke="#5b9a5d" stroke-width="0.75"/>
<circle cx="405.66" cy="29.61" r="1.38" fill="white" stroke="#5b9a5d" stroke-width="0.75"/>
<circle cx="417.84" cy="28.21" r="1.38" fill="white" stroke="#5b9a5d" stroke-width="0.75"/>
<circle cx="436.11" cy="33.13" r="1.38" fill="white" stroke="#5b9a5d" stroke-width="0.75"/>
<circle cx="466.56" cy="68.28" r="1.38" fill="white" stroke="#5b9a5d" stroke-width="0.75"/>
<circle cx="367.7" cy="80.58" r="1.38" fill="white" stroke="#5b9a5d" stroke-width="0.75"/>
<line x1="367.7" y1="81.98" x2="375" y2="81.98" stroke="#e0943a" stroke-width="0.7"/>
<line x1="367.7" y1="84.09" x2="367.7" y2="79.88" stroke="#e0943a" stroke-width="0.45"/>
<line x1="366.5" y1="84.09" x2="368.9" y2="84.09" stroke="#e0943a" stroke-width="0.45"/>
<line x1="366.5" y1="79.88" x2="368.9" y2="79.88" stroke="#e0943a" stroke-width="0.45"/>
<polyline points="381.3,81.98 393.48,81.98 405.66,38.4 417.84,26.45 436.11,31.37 466.56,60.54" fill="none" stroke="#e0943a" stroke-width="0.65" stroke-linejoin="round"/>
<line x1="405.66" y1="49.65" x2="405.66" y2="34.88" stroke="#e0943a" stroke-width="0.45"/>
<line x1="404.16" y1="49.65" x2="407.16" y2="49.65" stroke="#e0943a" stroke-width="0.45"/>
<line x1="404.16" y1="34.88" x2="407.16" y2="34.88" stroke="#e0943a" stroke-width="0.45"/>
<line x1="417.84" y1="28.56" x2="417.84" y2="24.34" stroke="#e0943a" stroke-width="0.45"/>
<line x1="416.34" y1="28.56" x2="419.34" y2="28.56" stroke="#e0943a" stroke-width="0.45"/>
<line x1="416.34" y1="24.34" x2="419.34" y2="24.34" stroke="#e0943a" stroke-width="0.45"/>
<line x1="466.56" y1="68.63" x2="466.56" y2="51.76" stroke="#e0943a" stroke-width="0.45"/>
<line x1="465.06" y1="68.63" x2="468.06" y2="68.63" stroke="#e0943a" stroke-width="0.45"/>
<line x1="465.06" y1="51.76" x2="468.06" y2="51.76" stroke="#e0943a" stroke-width="0.45"/>
<path d="M391.68,80.48L395.28,80.48L393.48,83.64Z" fill="white" stroke="#e0943a" stroke-width="0.6" />
<path d="M403.86,36.9L407.46,36.9L405.66,40.05Z" fill="white" stroke="#e0943a" stroke-width="0.6" />
<path d="M416.04,24.95L419.64,24.95L417.84,28.1Z" fill="white" stroke="#e0943a" stroke-width="0.6" />
<path d="M434.31,29.87L437.91,29.87L436.11,33.02Z" fill="white" stroke="#e0943a" stroke-width="0.6" />
<path d="M464.76,59.04L468.36,59.04L466.56,62.19Z" fill="white" stroke="#e0943a" stroke-width="0.6" />
<path d="M365.9,80.48L369.5,80.48L367.7,83.64Z" fill="white" stroke="#e0943a" stroke-width="0.6" />
<line x1="367.7" y1="81.63" x2="375" y2="81.63" stroke="#c1237d" stroke-width="0.7"/>
<line x1="367.7" y1="83.74" x2="367.7" y2="79.52" stroke="#c1237d" stroke-width="0.45"/>
<line x1="366.5" y1="83.74" x2="368.9" y2="83.74" stroke="#c1237d" stroke-width="0.45"/>
<line x1="366.5" y1="79.52" x2="368.9" y2="79.52" stroke="#c1237d" stroke-width="0.45"/>
<polyline points="381.3,81.63 393.48,81.63 405.66,39.1 417.84,27.15 436.11,28.56 466.56,64.41" fill="none" stroke="#c1237d" stroke-width="0.65" stroke-linejoin="round"/>
<line x1="417.84" y1="29.26" x2="417.84" y2="25.04" stroke="#c1237d" stroke-width="0.45"/>
<line x1="416.34" y1="29.26" x2="419.34" y2="29.26" stroke="#c1237d" stroke-width="0.45"/>
<line x1="416.34" y1="25.04" x2="419.34" y2="25.04" stroke="#c1237d" stroke-width="0.45"/>
<circle cx="393.48" cy="81.63" r="1.5" fill="#c1237d" stroke="none" stroke-width="0.5"/>
<circle cx="405.66" cy="39.1" r="1.5" fill="#c1237d" stroke="none" stroke-width="0.5"/>
<circle cx="417.84" cy="27.15" r="1.5" fill="#c1237d" stroke="none" stroke-width="0.5"/>
<circle cx="436.11" cy="28.56" r="1.5" fill="#c1237d" stroke="none" stroke-width="0.5"/>
<circle cx="466.56" cy="64.41" r="1.5" fill="#c1237d" stroke="none" stroke-width="0.5"/>
<circle cx="367.7" cy="81.63" r="1.5" fill="#c1237d" stroke="none" stroke-width="0.5"/>
<line x1="472.4" y1="27.7" x2="479.8" y2="27.7" stroke="#231f20" stroke-width="0.75"/>
<circle cx="476.1" cy="27.7" r="1.3" fill="#231f20" stroke="none" stroke-width="0.5"/>
<text font-size="6.5" transform="translate(481.6 30) scale(1 1.13)">Vehicle</text>
<line x1="472.4" y1="36.7" x2="479.8" y2="36.7" stroke="#9b99d3" stroke-width="0.75"/>
<rect x="474.8" y="35.4" width="2.6" height="2.6" fill="white" stroke="#9b99d3" stroke-width="0.6"/>
<text font-size="6.5" transform="translate(481.6 39) scale(1 1.13)">0.003 mg/kg</text>
<line x1="472.4" y1="45.7" x2="479.8" y2="45.7" stroke="#3b3b98" stroke-width="0.75"/>
<path d="M476.1,44.14L477.66,45.7L476.1,47.26L474.54,45.7Z" fill="#3b3b98" stroke="none" stroke-width="0.7" />
<text font-size="6.5" transform="translate(481.6 48) scale(1 1.13)">0.01 mg/kg</text>
<line x1="472.4" y1="54.7" x2="479.8" y2="54.7" stroke="#4a91c2" stroke-width="0.75"/>
<rect x="474.8" y="53.4" width="2.6" height="2.6" fill="#4a91c2" stroke="none" stroke-width="0.6"/>
<text font-size="6.5" transform="translate(481.6 57) scale(1 1.13)">0.03 mg/kg</text>
<line x1="472.4" y1="63.7" x2="479.8" y2="63.7" stroke="#5b9a5d" stroke-width="0.75"/>
<circle cx="476.1" cy="63.7" r="1.2" fill="white" stroke="#5b9a5d" stroke-width="0.75"/>
<text font-size="6.5" transform="translate(481.6 66) scale(1 1.13)">0.1 mg/kg</text>
<line x1="472.4" y1="72.7" x2="479.8" y2="72.7" stroke="#e0943a" stroke-width="0.75"/>
<path d="M474.54,71.4L477.66,71.4L476.1,74.13Z" fill="white" stroke="#e0943a" stroke-width="0.6" />
<text font-size="6.5" transform="translate(481.6 75) scale(1 1.13)">0.3 mg/kg</text>
<line x1="472.4" y1="81.7" x2="479.8" y2="81.7" stroke="#c1237d" stroke-width="0.75"/>
<circle cx="476.1" cy="81.7" r="1.3" fill="#c1237d" stroke="none" stroke-width="0.5"/>
<text font-size="6.5" transform="translate(481.6 84) scale(1 1.13)">1 mg/kg</text>
<text font-size="9.8" font-weight="bold" style="stroke-width:0.3px" transform="translate(0.7 133.4) scale(1 1.13)">D</text>
<line x1="33.4" y1="147.8" x2="33.4" y2="218.6" stroke="#231f20" stroke-width="0.7"/>
<line x1="30.6" y1="218.3" x2="33.4" y2="218.3" stroke="#231f20" stroke-width="0.7"/>
<text font-size="8" text-anchor="end" transform="translate(28.4 220.9) scale(1 1.13)">0</text>
<line x1="30.6" y1="206.6" x2="33.4" y2="206.6" stroke="#231f20" stroke-width="0.7"/>
<text font-size="8" text-anchor="end" transform="translate(28.4 209.2) scale(1 1.13)">3</text>
<line x1="30.6" y1="194.9" x2="33.4" y2="194.9" stroke="#231f20" stroke-width="0.7"/>
<text font-size="8" text-anchor="end" transform="translate(28.4 197.5) scale(1 1.13)">6</text>
<line x1="30.6" y1="183.2" x2="33.4" y2="183.2" stroke="#231f20" stroke-width="0.7"/>
<text font-size="8" text-anchor="end" transform="translate(28.4 185.8) scale(1 1.13)">9</text>
<line x1="30.6" y1="171.5" x2="33.4" y2="171.5" stroke="#231f20" stroke-width="0.7"/>
<text font-size="8" text-anchor="end" transform="translate(28.4 174.1) scale(1 1.13)">12</text>
<line x1="30.6" y1="159.8" x2="33.4" y2="159.8" stroke="#231f20" stroke-width="0.7"/>
<text font-size="8" text-anchor="end" transform="translate(28.4 162.4) scale(1 1.13)">15</text>
<line x1="30.6" y1="148.1" x2="33.4" y2="148.1" stroke="#231f20" stroke-width="0.7"/>
<text font-size="8" text-anchor="end" transform="translate(28.4 150.7) scale(1 1.13)">18</text>
<text font-size="7.6" text-anchor="middle" transform="translate(6.8 183.2) rotate(-90) scale(1 1.13)">CD8<tspan font-size="4.8" dy="-2.7">+</tspan><tspan dy="2.7"> T-cell counts</tspan></text>
<text font-size="7.6" text-anchor="middle" transform="translate(14.9 183.4) rotate(-90) scale(1 1.13)">(×10<tspan font-size="4.8" dy="-2.7">3</tspan><tspan dy="2.7"> cells/µL)</tspan></text>
<line x1="33.4" y1="218.3" x2="49.2" y2="218.3" stroke="#231f20" stroke-width="0.7"/>
<line x1="41.4" y1="218.3" x2="41.4" y2="221.1" stroke="#231f20" stroke-width="0.7"/>
<path d="M48.6,216.7 Q49.6,218.3 48.6,219.9" fill="none" stroke="#231f20" stroke-width="0.6" />
<line x1="54.8" y1="218.3" x2="138.9" y2="218.3" stroke="#231f20" stroke-width="0.7"/>
<path d="M55,216.7 Q54,218.3 55,219.9" fill="none" stroke="#231f20" stroke-width="0.6" />
<line x1="55.3" y1="218.3" x2="55.3" y2="221.1" stroke="#231f20" stroke-width="0.7"/>
<text font-size="7.6" text-anchor="middle" transform="translate(55.3 230.5) scale(1 1.13)">1</text>
<line x1="67.18" y1="218.3" x2="67.18" y2="221.1" stroke="#231f20" stroke-width="0.7"/>
<text font-size="7.6" text-anchor="middle" transform="translate(67.18 230.5) scale(1 1.13)">3</text>
<line x1="79.06" y1="218.3" x2="79.06" y2="221.1" stroke="#231f20" stroke-width="0.7"/>
<text font-size="7.6" text-anchor="middle" transform="translate(79.06 230.5) scale(1 1.13)">5</text>
<line x1="90.94" y1="218.3" x2="90.94" y2="221.1" stroke="#231f20" stroke-width="0.7"/>
<text font-size="7.6" text-anchor="middle" transform="translate(90.94 230.5) scale(1 1.13)">7</text>
<line x1="102.82" y1="218.3" x2="102.82" y2="221.1" stroke="#231f20" stroke-width="0.7"/>
<text font-size="7.6" text-anchor="middle" transform="translate(102.82 230.5) scale(1 1.13)">9</text>
<line x1="114.7" y1="218.3" x2="114.7" y2="221.1" stroke="#231f20" stroke-width="0.7"/>
<text font-size="7.6" text-anchor="middle" transform="translate(114.7 230.5) scale(1 1.13)">11</text>
<line x1="126.58" y1="218.3" x2="126.58" y2="221.1" stroke="#231f20" stroke-width="0.7"/>
<text font-size="7.6" text-anchor="middle" transform="translate(126.58 230.5) scale(1 1.13)">13</text>
<line x1="138.46" y1="218.3" x2="138.46" y2="221.1" stroke="#231f20" stroke-width="0.7"/>
<text font-size="7.6" text-anchor="middle" transform="translate(138.46 230.5) scale(1 1.13)">15</text>
<text font-size="5.25" text-anchor="end" transform="translate(41.2 229.5) scale(1 1)" style="stroke-width:0.04px">Baseline</text>
<line x1="55.3" y1="235.3" x2="55.3" y2="239.6" stroke="#231f20" stroke-width="0.7"/>
<path d="M55.3,233.6 L53.8,236.6 L56.8,236.6 Z" fill="#231f20" stroke="none" stroke-width="0.7" />
<text font-size="7.6" text-anchor="middle" transform="translate(91.2 240.2) scale(1 1.13)">Day</text>
<line x1="41.4" y1="214.79" x2="48.6" y2="215.77" stroke="#4a8fc0" stroke-width="0.7"/>
<polyline points="55.3,214.79 67.18,216.74 79.06,213.23 90.94,213.23 108.76,213.62 138.46,214.4" fill="none" stroke="#4a8fc0" stroke-width="0.65" stroke-linejoin="round"/>
<circle cx="67.18" cy="216.74" r="1.5" fill="#4a8fc0" stroke="none" stroke-width="0.5"/>
<circle cx="79.06" cy="213.23" r="1.5" fill="#4a8fc0" stroke="none" stroke-width="0.5"/>
<circle cx="90.94" cy="213.23" r="1.5" fill="#4a8fc0" stroke="none" stroke-width="0.5"/>
<circle cx="108.76" cy="213.62" r="1.5" fill="#4a8fc0" stroke="none" stroke-width="0.5"/>
<circle cx="138.46" cy="214.4" r="1.5" fill="#4a8fc0" stroke="none" stroke-width="0.5"/>
<circle cx="41.4" cy="214.79" r="1.5" fill="#4a8fc0" stroke="none" stroke-width="0.5"/>
<line x1="41.4" y1="214.01" x2="48.6" y2="214.99" stroke="#5b9a5d" stroke-width="0.7"/>
<polyline points="55.3,214.79 67.18,215.57 79.06,205.04 90.94,203.87 108.76,206.99 138.46,207.77" fill="none" stroke="#5b9a5d" stroke-width="0.65" stroke-linejoin="round"/>
<line x1="79.06" y1="207.38" x2="79.06" y2="201.92" stroke="#5b9a5d" stroke-width="0.45"/>
<line x1="77.56" y1="207.38" x2="80.56" y2="207.38" stroke="#5b9a5d" stroke-width="0.45"/>
<line x1="77.56" y1="201.92" x2="80.56" y2="201.92" stroke="#5b9a5d" stroke-width="0.45"/>
<line x1="90.94" y1="205.82" x2="90.94" y2="201.53" stroke="#5b9a5d" stroke-width="0.45"/>
<line x1="89.44" y1="205.82" x2="92.44" y2="205.82" stroke="#5b9a5d" stroke-width="0.45"/>
<line x1="89.44" y1="201.53" x2="92.44" y2="201.53" stroke="#5b9a5d" stroke-width="0.45"/>
<circle cx="67.18" cy="215.57" r="1.38" fill="white" stroke="#5b9a5d" stroke-width="0.75"/>
<circle cx="79.06" cy="205.04" r="1.38" fill="white" stroke="#5b9a5d" stroke-width="0.75"/>
<circle cx="90.94" cy="203.87" r="1.38" fill="white" stroke="#5b9a5d" stroke-width="0.75"/>
<circle cx="108.76" cy="206.99" r="1.38" fill="white" stroke="#5b9a5d" stroke-width="0.75"/>
<circle cx="138.46" cy="207.77" r="1.38" fill="white" stroke="#5b9a5d" stroke-width="0.75"/>
<circle cx="41.4" cy="214.01" r="1.38" fill="white" stroke="#5b9a5d" stroke-width="0.75"/>
<line x1="41.4" y1="213.62" x2="48.6" y2="214.59" stroke="#e0943a" stroke-width="0.7"/>
<polyline points="55.3,215.18 67.18,215.96 79.06,208.16 90.94,198.8 108.76,205.43 138.46,210.11" fill="none" stroke="#e0943a" stroke-width="0.65" stroke-linejoin="round"/>
<line x1="79.06" y1="211.28" x2="79.06" y2="205.04" stroke="#e0943a" stroke-width="0.45"/>
<line x1="77.56" y1="211.28" x2="80.56" y2="211.28" stroke="#e0943a" stroke-width="0.45"/>
<line x1="77.56" y1="205.04" x2="80.56" y2="205.04" stroke="#e0943a" stroke-width="0.45"/>
<line x1="90.94" y1="201.14" x2="90.94" y2="196.46" stroke="#e0943a" stroke-width="0.45"/>
<line x1="89.44" y1="201.14" x2="92.44" y2="201.14" stroke="#e0943a" stroke-width="0.45"/>
<line x1="89.44" y1="196.46" x2="92.44" y2="196.46" stroke="#e0943a" stroke-width="0.45"/>
<line x1="108.76" y1="206.6" x2="108.76" y2="203.87" stroke="#e0943a" stroke-width="0.45"/>
<line x1="107.26" y1="206.6" x2="110.26" y2="206.6" stroke="#e0943a" stroke-width="0.45"/>
<line x1="107.26" y1="203.87" x2="110.26" y2="203.87" stroke="#e0943a" stroke-width="0.45"/>
<line x1="138.46" y1="212.06" x2="138.46" y2="208.16" stroke="#e0943a" stroke-width="0.45"/>
<line x1="136.96" y1="212.06" x2="139.96" y2="212.06" stroke="#e0943a" stroke-width="0.45"/>
<line x1="136.96" y1="208.16" x2="139.96" y2="208.16" stroke="#e0943a" stroke-width="0.45"/>
<path d="M65.38,214.46L68.98,214.46L67.18,217.61Z" fill="white" stroke="#e0943a" stroke-width="0.6" />
<path d="M77.26,206.66L80.86,206.66L79.06,209.81Z" fill="white" stroke="#e0943a" stroke-width="0.6" />
<path d="M89.14,197.3L92.74,197.3L90.94,200.45Z" fill="white" stroke="#e0943a" stroke-width="0.6" />
<path d="M106.96,203.93L110.56,203.93L108.76,207.08Z" fill="white" stroke="#e0943a" stroke-width="0.6" />
<path d="M136.66,208.61L140.26,208.61L138.46,211.76Z" fill="white" stroke="#e0943a" stroke-width="0.6" />
<path d="M39.6,212.12L43.2,212.12L41.4,215.27Z" fill="white" stroke="#e0943a" stroke-width="0.6" />
<line x1="41.4" y1="213.23" x2="48.6" y2="214.21" stroke="#58595b" stroke-width="0.7" stroke-dasharray="1.5,1"/>
<polyline points="55.3,212.84 67.18,213.04 79.06,213.43 90.94,213.04 108.76,212.84 138.46,212.26" fill="none" stroke="#58595b" stroke-width="0.65" stroke-linejoin="round" stroke-dasharray="1.5,1"/>
<circle cx="67.18" cy="213.04" r="1.5" fill="#231f20" stroke="none" stroke-width="0.5"/>
<circle cx="79.06" cy="213.43" r="1.5" fill="#231f20" stroke="none" stroke-width="0.5"/>
<circle cx="90.94" cy="213.04" r="1.5" fill="#231f20" stroke="none" stroke-width="0.5"/>
<circle cx="108.76" cy="212.84" r="1.5" fill="#231f20" stroke="none" stroke-width="0.5"/>
<circle cx="138.46" cy="212.26" r="1.5" fill="#231f20" stroke="none" stroke-width="0.5"/>
<circle cx="41.4" cy="213.23" r="1.5" fill="#231f20" stroke="none" stroke-width="0.5"/>
<line x1="41.4" y1="210.31" x2="48.6" y2="211.28" stroke="#c1237d" stroke-width="0.7"/>
<line x1="41.4" y1="214.01" x2="41.4" y2="205.43" stroke="#c1237d" stroke-width="0.45"/>
<line x1="40" y1="214.01" x2="42.8" y2="214.01" stroke="#c1237d" stroke-width="0.45"/>
<line x1="40" y1="205.43" x2="42.8" y2="205.43" stroke="#c1237d" stroke-width="0.45"/>
<polyline points="55.3,212.45 67.18,214.4 79.06,215.77 90.94,192.17 108.76,179.5 138.46,206.6" fill="none" stroke="#c1237d" stroke-width="0.65" stroke-linejoin="round"/>
<line x1="90.94" y1="207.38" x2="90.94" y2="176.18" stroke="#c1237d" stroke-width="0.45"/>
<line x1="89.44" y1="207.38" x2="92.44" y2="207.38" stroke="#c1237d" stroke-width="0.45"/>
<line x1="89.44" y1="176.18" x2="92.44" y2="176.18" stroke="#c1237d" stroke-width="0.45"/>
<line x1="108.76" y1="201.14" x2="108.76" y2="157.85" stroke="#c1237d" stroke-width="0.45"/>
<line x1="107.26" y1="201.14" x2="110.26" y2="201.14" stroke="#c1237d" stroke-width="0.45"/>
<line x1="107.26" y1="157.85" x2="110.26" y2="157.85" stroke="#c1237d" stroke-width="0.45"/>
<line x1="138.46" y1="209.72" x2="138.46" y2="203.48" stroke="#c1237d" stroke-width="0.45"/>
<line x1="136.96" y1="209.72" x2="139.96" y2="209.72" stroke="#c1237d" stroke-width="0.45"/>
<line x1="136.96" y1="203.48" x2="139.96" y2="203.48" stroke="#c1237d" stroke-width="0.45"/>
<circle cx="67.18" cy="214.4" r="1.5" fill="#c1237d" stroke="none" stroke-width="0.5"/>
<circle cx="79.06" cy="215.77" r="1.5" fill="#c1237d" stroke="none" stroke-width="0.5"/>
<circle cx="90.94" cy="192.17" r="1.5" fill="#c1237d" stroke="none" stroke-width="0.5"/>
<circle cx="108.76" cy="179.5" r="1.5" fill="#c1237d" stroke="none" stroke-width="0.5"/>
<circle cx="138.46" cy="206.6" r="1.5" fill="#c1237d" stroke="none" stroke-width="0.5"/>
<circle cx="41.4" cy="210.31" r="1.5" fill="#c1237d" stroke="none" stroke-width="0.5"/>
<line x1="44.1" y1="152" x2="51.7" y2="152" stroke="#231f20" stroke-width="0.8"/>
<circle cx="47.9" cy="152" r="1.4" fill="#231f20" stroke="none" stroke-width="0.5"/>
<text font-size="6.3" transform="translate(54.5 154.3) scale(1 1.13)">Vehicle</text>
<line x1="44.1" y1="160.45" x2="51.7" y2="160.45" stroke="#4a8fc0" stroke-width="0.8"/>
<circle cx="47.9" cy="160.45" r="1.4" fill="#4a8fc0" stroke="none" stroke-width="0.5"/>
<text font-size="6.3" transform="translate(54.5 162.75) scale(1 1.13)">0.03 mg/kg</text>
<line x1="44.1" y1="168.9" x2="51.7" y2="168.9" stroke="#5b9a5d" stroke-width="0.8"/>
<circle cx="47.9" cy="168.9" r="1.29" fill="white" stroke="#5b9a5d" stroke-width="0.75"/>
<text font-size="6.3" transform="translate(54.5 171.2) scale(1 1.13)">0.1 mg/kg</text>
<line x1="44.1" y1="177.35" x2="51.7" y2="177.35" stroke="#e0943a" stroke-width="0.8"/>
<path d="M46.22,175.95L49.58,175.95L47.9,178.89Z" fill="white" stroke="#e0943a" stroke-width="0.6" />
<text font-size="6.3" transform="translate(54.5 179.65) scale(1 1.13)">0.3 mg/kg</text>
<line x1="44.1" y1="185.8" x2="51.7" y2="185.8" stroke="#c1237d" stroke-width="0.8"/>
<circle cx="47.9" cy="185.8" r="1.4" fill="#c1237d" stroke="none" stroke-width="0.5"/>
<text font-size="6.3" transform="translate(54.5 188.1) scale(1 1.13)">1 mg/kg</text>
<text font-size="9.8" font-weight="bold" style="stroke-width:0.3px" transform="translate(175.2 133.4) scale(1 1.13)">E</text>
<line x1="201.5" y1="144.8" x2="201.5" y2="215.7" stroke="#231f20" stroke-width="0.7"/>
<line x1="198.7" y1="215.4" x2="201.5" y2="215.4" stroke="#231f20" stroke-width="0.7"/>
<text font-size="7.8" text-anchor="end" transform="translate(196.7 218) scale(1 1.13)">0</text>
<line x1="198.7" y1="197.83" x2="201.5" y2="197.83" stroke="#231f20" stroke-width="0.7"/>
<text font-size="7.8" text-anchor="end" transform="translate(196.7 200.43) scale(1 1.13)">5</text>
<line x1="198.7" y1="180.25" x2="201.5" y2="180.25" stroke="#231f20" stroke-width="0.7"/>
<text font-size="7.8" text-anchor="end" transform="translate(196.7 182.85) scale(1 1.13)">10</text>
<line x1="198.7" y1="162.68" x2="201.5" y2="162.68" stroke="#231f20" stroke-width="0.7"/>
<text font-size="7.8" text-anchor="end" transform="translate(196.7 165.28) scale(1 1.13)">15</text>
<line x1="198.7" y1="145.1" x2="201.5" y2="145.1" stroke="#231f20" stroke-width="0.7"/>
<text font-size="7.8" text-anchor="end" transform="translate(196.7 147.7) scale(1 1.13)">20</text>
<text font-size="7.9" text-anchor="middle" transform="translate(182.9 179.3) rotate(-90) scale(1 1.13)">Cell count (×10<tspan font-size="4.8" dy="-2.7">3</tspan><tspan dy="2.7">/µL)</tspan></text>
<line x1="201.5" y1="215.4" x2="213.7" y2="215.4" stroke="#231f20" stroke-width="0.7"/>
<line x1="207.9" y1="215.4" x2="207.9" y2="218" stroke="#231f20" stroke-width="0.7"/>
<path d="M213.1,213.8 Q214.1,215.4 213.1,217" fill="none" stroke="#231f20" stroke-width="0.6" />
<line x1="216.5" y1="215.4" x2="273.1" y2="215.4" stroke="#231f20" stroke-width="0.7"/>
<path d="M216.7,213.8 Q215.7,215.4 216.7,217" fill="none" stroke="#231f20" stroke-width="0.6" />
<line x1="220.4" y1="215.4" x2="220.4" y2="218.2" stroke="#231f20" stroke-width="0.7"/>
<text font-size="7.6" text-anchor="middle" transform="translate(220.4 226.3) scale(1 1.13)">1</text>
<line x1="246.58" y1="215.4" x2="246.58" y2="218.2" stroke="#231f20" stroke-width="0.7"/>
<text font-size="7.6" text-anchor="middle" transform="translate(246.58 226.3) scale(1 1.13)">8</text>
<line x1="272.76" y1="215.4" x2="272.76" y2="218.2" stroke="#231f20" stroke-width="0.7"/>
<text font-size="7.6" text-anchor="middle" transform="translate(272.76 226.3) scale(1 1.13)">15</text>
<text font-size="5.25" text-anchor="end" transform="translate(207.7 225.7) scale(1 1)" style="stroke-width:0.04px">Baseline</text>
<line x1="220.4" y1="231" x2="220.4" y2="235.4" stroke="#231f20" stroke-width="0.7"/>
<path d="M220.4,229.3 L218.9,232.3 L221.9,232.3 Z" fill="#231f20" stroke="none" stroke-width="0.7" />
<line x1="246.58" y1="231" x2="246.58" y2="235.4" stroke="#231f20" stroke-width="0.7"/>
<path d="M246.58,229.3 L245.08,232.3 L248.08,232.3 Z" fill="#231f20" stroke="none" stroke-width="0.7" />
<text font-size="7.6" text-anchor="middle" transform="translate(236.8 235.3) scale(1 1.13)">Day</text>
<polyline points="202.8,215.05 210.1,215.05 213.5,215.4" fill="none" stroke="#5b9a5d" stroke-width="0.6" stroke-linejoin="round"/>
<polyline points="216.8,215.05 220.4,215.05 227.88,215.05 235.36,215.05 246.58,215.05 254.06,214.87 257.8,214.87 272.76,215.05" fill="none" stroke="#5b9a5d" stroke-width="0.6" stroke-linejoin="round"/>
<circle cx="202.8" cy="215.05" r="1.1" fill="white" stroke="#5b9a5d" stroke-width="0.75"/>
<circle cx="210.1" cy="215.05" r="1.1" fill="white" stroke="#5b9a5d" stroke-width="0.75"/>
<circle cx="227.88" cy="215.05" r="1.1" fill="white" stroke="#5b9a5d" stroke-width="0.75"/>
<circle cx="235.36" cy="215.05" r="1.1" fill="white" stroke="#5b9a5d" stroke-width="0.75"/>
<circle cx="246.58" cy="215.05" r="1.1" fill="white" stroke="#5b9a5d" stroke-width="0.75"/>
<circle cx="254.06" cy="214.87" r="1.1" fill="white" stroke="#5b9a5d" stroke-width="0.75"/>
<circle cx="257.8" cy="214.87" r="1.1" fill="white" stroke="#5b9a5d" stroke-width="0.75"/>
<circle cx="272.76" cy="215.05" r="1.1" fill="white" stroke="#5b9a5d" stroke-width="0.75"/>
<polyline points="202.8,212.24 210.1,212.94 213.5,213.29" fill="none" stroke="#6aaad6" stroke-width="0.6" stroke-linejoin="round" stroke-dasharray="1.2,0.8"/>
<polyline points="216.8,212.94 220.4,212.94 227.88,212.59 235.36,212.59 246.58,212.59 254.06,212.59 257.8,212.59 272.76,212.76" fill="none" stroke="#6aaad6" stroke-width="0.6" stroke-linejoin="round" stroke-dasharray="1.2,0.8"/>
<path d="M201.54,213.29L204.06,213.29L202.8,211.08Z" fill="#6aaad6" stroke="none" stroke-width="0.7" />
<path d="M208.84,213.99L211.36,213.99L210.1,211.78Z" fill="#6aaad6" stroke="none" stroke-width="0.7" />
<path d="M226.62,213.64L229.14,213.64L227.88,211.43Z" fill="#6aaad6" stroke="none" stroke-width="0.7" />
<path d="M234.1,213.64L236.62,213.64L235.36,211.43Z" fill="#6aaad6" stroke="none" stroke-width="0.7" />
<path d="M245.32,213.64L247.84,213.64L246.58,211.43Z" fill="#6aaad6" stroke="none" stroke-width="0.7" />
<path d="M252.8,213.64L255.32,213.64L254.06,211.43Z" fill="#6aaad6" stroke="none" stroke-width="0.7" />
<path d="M256.54,213.64L259.06,213.64L257.8,211.43Z" fill="#6aaad6" stroke="none" stroke-width="0.7" />
<path d="M271.5,213.81L274.02,213.81L272.76,211.61Z" fill="#6aaad6" stroke="none" stroke-width="0.7" />
<polyline points="202.8,209.78 210.1,211.53 213.5,211.89" fill="none" stroke="#c1237d" stroke-width="0.6" stroke-linejoin="round"/>
<polyline points="216.8,211.53 220.4,211.53 227.88,210.3 235.36,210.83 246.58,211.18 254.06,208.72 257.8,209.6 272.76,211.18" fill="none" stroke="#c1237d" stroke-width="0.6" stroke-linejoin="round"/>
<rect x="201.75" y="208.73" width="2.1" height="2.1" fill="#c1237d" stroke="none" stroke-width="0.6"/>
<rect x="209.05" y="210.48" width="2.1" height="2.1" fill="#c1237d" stroke="none" stroke-width="0.6"/>
<rect x="226.83" y="209.25" width="2.1" height="2.1" fill="#c1237d" stroke="none" stroke-width="0.6"/>
<rect x="234.31" y="209.78" width="2.1" height="2.1" fill="#c1237d" stroke="none" stroke-width="0.6"/>
<rect x="245.53" y="210.13" width="2.1" height="2.1" fill="#c1237d" stroke="none" stroke-width="0.6"/>
<rect x="253.01" y="207.67" width="2.1" height="2.1" fill="#c1237d" stroke="none" stroke-width="0.6"/>
<rect x="256.75" y="208.55" width="2.1" height="2.1" fill="#c1237d" stroke="none" stroke-width="0.6"/>
<rect x="271.71" y="210.13" width="2.1" height="2.1" fill="#c1237d" stroke="none" stroke-width="0.6"/>
<line x1="254.06" y1="209.78" x2="254.06" y2="207.32" stroke="#c1237d" stroke-width="0.55"/>
<line x1="252.76" y1="209.78" x2="255.36" y2="209.78" stroke="#c1237d" stroke-width="0.55"/>
<line x1="252.76" y1="207.32" x2="255.36" y2="207.32" stroke="#c1237d" stroke-width="0.55"/>
<line x1="211.9" y1="154.1" x2="220.4" y2="154.1" stroke="#e58fc0" stroke-width="0.9"/>
<rect x="215.2" y="153.1" width="2" height="2" fill="#c1237d" stroke="none" stroke-width="0.6"/>
<text font-size="6.4" transform="translate(222.9 156.3) scale(1 1.13)">CD8<tspan font-size="4.2" dy="-2.4">+</tspan><tspan dy="2.4"> T cell</tspan></text>
<line x1="211.9" y1="162.3" x2="220.4" y2="162.3" stroke="#a8cde8" stroke-width="0.9" stroke-dasharray="1.6,0.7"/>
<path d="M215,163.3L217.4,163.3L216.2,161.2Z" fill="#6aaad6" stroke="none" stroke-width="0.7" />
<text font-size="6.4" transform="translate(222.9 164.5) scale(1 1.13)">NK cell</text>
<line x1="211.9" y1="170.5" x2="220.4" y2="170.5" stroke="#9cc79c" stroke-width="0.9" stroke-dasharray="1.6,0.7"/>
<circle cx="216.2" cy="170.5" r="0.92" fill="white" stroke="#5b9a5d" stroke-width="0.75"/>
<text font-size="6.4" transform="translate(222.9 172.7) scale(1 1.13)">Treg</text>
<line x1="299.6" y1="144.8" x2="299.6" y2="215.7" stroke="#231f20" stroke-width="0.7"/>
<line x1="296.8" y1="215.4" x2="299.6" y2="215.4" stroke="#231f20" stroke-width="0.7"/>
<text font-size="7.8" text-anchor="end" transform="translate(294.8 218) scale(1 1.13)">0</text>
<line x1="296.8" y1="191.97" x2="299.6" y2="191.97" stroke="#231f20" stroke-width="0.7"/>
<text font-size="7.8" text-anchor="end" transform="translate(294.8 194.57) scale(1 1.13)">10</text>
<line x1="296.8" y1="168.53" x2="299.6" y2="168.53" stroke="#231f20" stroke-width="0.7"/>
<text font-size="7.8" text-anchor="end" transform="translate(294.8 171.13) scale(1 1.13)">20</text>
<line x1="296.8" y1="145.1" x2="299.6" y2="145.1" stroke="#231f20" stroke-width="0.7"/>
<text font-size="7.8" text-anchor="end" transform="translate(294.8 147.7) scale(1 1.13)">30</text>
<text font-size="7.4" text-anchor="middle" transform="translate(284 180.1) rotate(-90) scale(1 1.13)">Max fold change</text>
<line x1="299.6" y1="215.4" x2="343" y2="215.4" stroke="#231f20" stroke-width="0.7"/>
<rect x="304.9" y="211.65" width="9.4" height="3.75" fill="#b3218c" stroke="#231f20" stroke-width="0.5"/>
<line x1="309.6" y1="215.4" x2="309.6" y2="217.8" stroke="#231f20" stroke-width="0.6"/>
<circle cx="309.6" cy="212.35" r="1.05" fill="#231f20" stroke="none" stroke-width="0.5"/>
<circle cx="308" cy="211.65" r="1.05" fill="#231f20" stroke="none" stroke-width="0.5"/>
<circle cx="310.2" cy="210.95" r="1.05" fill="#231f20" stroke="none" stroke-width="0.5"/>
<circle cx="309.8" cy="210.24" r="1.05" fill="#231f20" stroke="none" stroke-width="0.5"/>
<circle cx="311.4" cy="211.89" r="1.05" fill="#231f20" stroke="none" stroke-width="0.5"/>
<circle cx="308.4" cy="212.59" r="1.05" fill="#231f20" stroke="none" stroke-width="0.5"/>
<circle cx="310" cy="211.18" r="1.05" fill="#231f20" stroke="none" stroke-width="0.5"/>
<circle cx="311.1" cy="210.71" r="1.05" fill="#231f20" stroke="none" stroke-width="0.5"/>
<circle cx="309.1" cy="212.12" r="1.05" fill="#231f20" stroke="none" stroke-width="0.5"/>
<text font-size="7.7" text-anchor="end" transform="translate(311.3 224.9) rotate(-45) scale(1 1.13)">CD8<tspan font-size="4.8" dy="-2.7">+</tspan><tspan dy="2.7"> T cell</tspan></text>
<rect x="319" y="211.89" width="9.4" height="3.51" fill="#5e9bc9" stroke="#231f20" stroke-width="0.5"/>
<line x1="323.7" y1="215.4" x2="323.7" y2="217.8" stroke="#231f20" stroke-width="0.6"/>
<circle cx="320.7" cy="212.82" r="1.05" fill="#231f20" stroke="none" stroke-width="0.5"/>
<circle cx="326.7" cy="212.12" r="1.05" fill="#231f20" stroke="none" stroke-width="0.5"/>
<circle cx="323.7" cy="211.42" r="1.05" fill="#231f20" stroke="none" stroke-width="0.5"/>
<circle cx="322.2" cy="209.78" r="1.05" fill="#231f20" stroke="none" stroke-width="0.5"/>
<circle cx="325.2" cy="210.95" r="1.05" fill="#231f20" stroke="none" stroke-width="0.5"/>
<circle cx="320.7" cy="212.35" r="1.05" fill="#231f20" stroke="none" stroke-width="0.5"/>
<circle cx="326.7" cy="211.65" r="1.05" fill="#231f20" stroke="none" stroke-width="0.5"/>
<circle cx="323.9" cy="210.71" r="1.05" fill="#231f20" stroke="none" stroke-width="0.5"/>
<circle cx="322.1" cy="212.59" r="1.05" fill="#231f20" stroke="none" stroke-width="0.5"/>
<text font-size="7.7" text-anchor="end" transform="translate(325.4 224.9) rotate(-45) scale(1 1.13)">NK cell</text>
<rect x="333.1" y="211.89" width="9.4" height="3.51" fill="#5e9f58" stroke="#231f20" stroke-width="0.5"/>
<line x1="337.8" y1="215.4" x2="337.8" y2="217.8" stroke="#231f20" stroke-width="0.6"/>
<circle cx="334.8" cy="212.59" r="1.05" fill="#231f20" stroke="none" stroke-width="0.5"/>
<circle cx="340.8" cy="211.89" r="1.05" fill="#231f20" stroke="none" stroke-width="0.5"/>
<circle cx="337.8" cy="211.18" r="1.05" fill="#231f20" stroke="none" stroke-width="0.5"/>
<circle cx="336.3" cy="210.48" r="1.05" fill="#231f20" stroke="none" stroke-width="0.5"/>
<circle cx="339.3" cy="212.12" r="1.05" fill="#231f20" stroke="none" stroke-width="0.5"/>
<circle cx="334.8" cy="212.82" r="1.05" fill="#231f20" stroke="none" stroke-width="0.5"/>
<circle cx="340.8" cy="211.42" r="1.05" fill="#231f20" stroke="none" stroke-width="0.5"/>
<circle cx="338" cy="210.95" r="1.05" fill="#231f20" stroke="none" stroke-width="0.5"/>
<circle cx="336.2" cy="212.35" r="1.05" fill="#231f20" stroke="none" stroke-width="0.5"/>
<text font-size="7.7" text-anchor="end" transform="translate(339.5 224.9) rotate(-45) scale(1 1.13)">Treg</text>
<line x1="204.2" y1="136.6" x2="340.8" y2="136.6" stroke="#58595b" stroke-width="0.8"/>
<text font-size="7.3" text-anchor="middle" transform="translate(272.5 132.7) scale(1 1.13)">Vehicle</text>
<line x1="373.2" y1="144.8" x2="373.2" y2="215.7" stroke="#231f20" stroke-width="0.7"/>
<line x1="370.4" y1="215.4" x2="373.2" y2="215.4" stroke="#231f20" stroke-width="0.7"/>
<text font-size="7.8" text-anchor="end" transform="translate(368.4 218) scale(1 1.13)">0</text>
<line x1="370.4" y1="197.83" x2="373.2" y2="197.83" stroke="#231f20" stroke-width="0.7"/>
<text font-size="7.8" text-anchor="end" transform="translate(368.4 200.43) scale(1 1.13)">5</text>
<line x1="370.4" y1="180.25" x2="373.2" y2="180.25" stroke="#231f20" stroke-width="0.7"/>
<text font-size="7.8" text-anchor="end" transform="translate(368.4 182.85) scale(1 1.13)">10</text>
<line x1="370.4" y1="162.68" x2="373.2" y2="162.68" stroke="#231f20" stroke-width="0.7"/>
<text font-size="7.8" text-anchor="end" transform="translate(368.4 165.28) scale(1 1.13)">15</text>
<line x1="370.4" y1="145.1" x2="373.2" y2="145.1" stroke="#231f20" stroke-width="0.7"/>
<text font-size="7.8" text-anchor="end" transform="translate(368.4 147.7) scale(1 1.13)">20</text>
<text font-size="7.9" text-anchor="middle" transform="translate(354.6 179.3) rotate(-90) scale(1 1.13)">Cell count (×10<tspan font-size="4.8" dy="-2.7">3</tspan><tspan dy="2.7">/µL)</tspan></text>
<line x1="373.2" y1="215.4" x2="385.4" y2="215.4" stroke="#231f20" stroke-width="0.7"/>
<line x1="379.6" y1="215.4" x2="379.6" y2="218" stroke="#231f20" stroke-width="0.7"/>
<path d="M384.8,213.8 Q385.8,215.4 384.8,217" fill="none" stroke="#231f20" stroke-width="0.6" />
<line x1="388.2" y1="215.4" x2="444.8" y2="215.4" stroke="#231f20" stroke-width="0.7"/>
<path d="M388.4,213.8 Q387.4,215.4 388.4,217" fill="none" stroke="#231f20" stroke-width="0.6" />
<line x1="392.1" y1="215.4" x2="392.1" y2="218.2" stroke="#231f20" stroke-width="0.7"/>
<text font-size="7.6" text-anchor="middle" transform="translate(392.1 226.3) scale(1 1.13)">1</text>
<line x1="418.28" y1="215.4" x2="418.28" y2="218.2" stroke="#231f20" stroke-width="0.7"/>
<text font-size="7.6" text-anchor="middle" transform="translate(418.28 226.3) scale(1 1.13)">8</text>
<line x1="444.46" y1="215.4" x2="444.46" y2="218.2" stroke="#231f20" stroke-width="0.7"/>
<text font-size="7.6" text-anchor="middle" transform="translate(444.46 226.3) scale(1 1.13)">15</text>
<text font-size="5.25" text-anchor="end" transform="translate(379.4 225.7) scale(1 1)" style="stroke-width:0.04px">Baseline</text>
<line x1="392.1" y1="231" x2="392.1" y2="235.4" stroke="#231f20" stroke-width="0.7"/>
<path d="M392.1,229.3 L390.6,232.3 L393.6,232.3 Z" fill="#231f20" stroke="none" stroke-width="0.7" />
<line x1="418.28" y1="231" x2="418.28" y2="235.4" stroke="#231f20" stroke-width="0.7"/>
<path d="M418.28,229.3 L416.78,232.3 L419.78,232.3 Z" fill="#231f20" stroke="none" stroke-width="0.7" />
<text font-size="7.6" text-anchor="middle" transform="translate(408.5 235.3) scale(1 1.13)">Day</text>
<polyline points="374.5,215.05 381.8,215.05 385.2,215.4" fill="none" stroke="#5b9a5d" stroke-width="0.6" stroke-linejoin="round"/>
<polyline points="388.5,215.05 392.1,215.05 399.58,215.05 407.06,215.05 418.28,215.05 425.76,215.05 429.5,214.87 444.46,215.05" fill="none" stroke="#5b9a5d" stroke-width="0.6" stroke-linejoin="round"/>
<circle cx="374.5" cy="215.05" r="1.1" fill="white" stroke="#5b9a5d" stroke-width="0.75"/>
<circle cx="381.8" cy="215.05" r="1.1" fill="white" stroke="#5b9a5d" stroke-width="0.75"/>
<circle cx="399.58" cy="215.05" r="1.1" fill="white" stroke="#5b9a5d" stroke-width="0.75"/>
<circle cx="407.06" cy="215.05" r="1.1" fill="white" stroke="#5b9a5d" stroke-width="0.75"/>
<circle cx="418.28" cy="215.05" r="1.1" fill="white" stroke="#5b9a5d" stroke-width="0.75"/>
<circle cx="425.76" cy="215.05" r="1.1" fill="white" stroke="#5b9a5d" stroke-width="0.75"/>
<circle cx="429.5" cy="214.87" r="1.1" fill="white" stroke="#5b9a5d" stroke-width="0.75"/>
<circle cx="444.46" cy="215.05" r="1.1" fill="white" stroke="#5b9a5d" stroke-width="0.75"/>
<polyline points="374.5,213.29 381.8,213.99 385.2,214.35" fill="none" stroke="#6aaad6" stroke-width="0.6" stroke-linejoin="round" stroke-dasharray="1.2,0.8"/>
<polyline points="388.5,213.99 392.1,213.99 399.58,213.99 407.06,213.64 418.28,212.94 425.76,213.64 429.5,213.29 444.46,213.64" fill="none" stroke="#6aaad6" stroke-width="0.6" stroke-linejoin="round" stroke-dasharray="1.2,0.8"/>
<path d="M373.24,214.34L375.76,214.34L374.5,212.14Z" fill="#6aaad6" stroke="none" stroke-width="0.7" />
<path d="M380.54,215.04L383.06,215.04L381.8,212.84Z" fill="#6aaad6" stroke="none" stroke-width="0.7" />
<path d="M398.32,215.04L400.84,215.04L399.58,212.84Z" fill="#6aaad6" stroke="none" stroke-width="0.7" />
<path d="M405.8,214.69L408.32,214.69L407.06,212.49Z" fill="#6aaad6" stroke="none" stroke-width="0.7" />
<path d="M417.02,213.99L419.54,213.99L418.28,211.78Z" fill="#6aaad6" stroke="none" stroke-width="0.7" />
<path d="M424.5,214.69L427.02,214.69L425.76,212.49Z" fill="#6aaad6" stroke="none" stroke-width="0.7" />
<path d="M428.24,214.34L430.76,214.34L429.5,212.14Z" fill="#6aaad6" stroke="none" stroke-width="0.7" />
<path d="M443.2,214.69L445.72,214.69L444.46,212.49Z" fill="#6aaad6" stroke="none" stroke-width="0.7" />
<polyline points="374.5,209.78 381.8,212.24 385.2,212.59" fill="none" stroke="#c1237d" stroke-width="0.6" stroke-linejoin="round"/>
<polyline points="388.5,212.94 392.1,212.94 399.58,213.99 407.06,202.39 418.28,197.47 425.76,202.04 429.5,191.15 444.46,199.23" fill="none" stroke="#c1237d" stroke-width="0.6" stroke-linejoin="round"/>
<rect x="373.45" y="208.73" width="2.1" height="2.1" fill="#c1237d" stroke="none" stroke-width="0.6"/>
<rect x="380.75" y="211.19" width="2.1" height="2.1" fill="#c1237d" stroke="none" stroke-width="0.6"/>
<rect x="398.53" y="212.94" width="2.1" height="2.1" fill="#c1237d" stroke="none" stroke-width="0.6"/>
<rect x="406.01" y="201.34" width="2.1" height="2.1" fill="#c1237d" stroke="none" stroke-width="0.6"/>
<rect x="417.23" y="196.42" width="2.1" height="2.1" fill="#c1237d" stroke="none" stroke-width="0.6"/>
<rect x="424.71" y="200.99" width="2.1" height="2.1" fill="#c1237d" stroke="none" stroke-width="0.6"/>
<rect x="428.45" y="190.1" width="2.1" height="2.1" fill="#c1237d" stroke="none" stroke-width="0.6"/>
<rect x="443.41" y="198.18" width="2.1" height="2.1" fill="#c1237d" stroke="none" stroke-width="0.6"/>
<line x1="407.06" y1="203.45" x2="407.06" y2="201.34" stroke="#c1237d" stroke-width="0.55"/>
<line x1="405.76" y1="203.45" x2="408.36" y2="203.45" stroke="#c1237d" stroke-width="0.55"/>
<line x1="405.76" y1="201.34" x2="408.36" y2="201.34" stroke="#c1237d" stroke-width="0.55"/>
<line x1="418.28" y1="199.23" x2="418.28" y2="195.72" stroke="#c1237d" stroke-width="0.55"/>
<line x1="416.98" y1="199.23" x2="419.58" y2="199.23" stroke="#c1237d" stroke-width="0.55"/>
<line x1="416.98" y1="195.72" x2="419.58" y2="195.72" stroke="#c1237d" stroke-width="0.55"/>
<line x1="425.76" y1="203.45" x2="425.76" y2="200.64" stroke="#c1237d" stroke-width="0.55"/>
<line x1="424.46" y1="203.45" x2="427.06" y2="203.45" stroke="#c1237d" stroke-width="0.55"/>
<line x1="424.46" y1="200.64" x2="427.06" y2="200.64" stroke="#c1237d" stroke-width="0.55"/>
<line x1="429.5" y1="195.36" x2="429.5" y2="186.93" stroke="#c1237d" stroke-width="0.55"/>
<line x1="428.2" y1="195.36" x2="430.8" y2="195.36" stroke="#c1237d" stroke-width="0.55"/>
<line x1="428.2" y1="186.93" x2="430.8" y2="186.93" stroke="#c1237d" stroke-width="0.55"/>
<line x1="444.46" y1="200.29" x2="444.46" y2="198.18" stroke="#c1237d" stroke-width="0.55"/>
<line x1="443.16" y1="200.29" x2="445.76" y2="200.29" stroke="#c1237d" stroke-width="0.55"/>
<line x1="443.16" y1="198.18" x2="445.76" y2="198.18" stroke="#c1237d" stroke-width="0.55"/>
<line x1="383.8" y1="154.1" x2="392.3" y2="154.1" stroke="#e58fc0" stroke-width="0.9"/>
<rect x="387.1" y="153.1" width="2" height="2" fill="#c1237d" stroke="none" stroke-width="0.6"/>
<text font-size="6.4" transform="translate(394.8 156.3) scale(1 1.13)">CD8<tspan font-size="4.2" dy="-2.4">+</tspan><tspan dy="2.4"> T cell</tspan></text>
<line x1="383.8" y1="162.3" x2="392.3" y2="162.3" stroke="#a8cde8" stroke-width="0.9" stroke-dasharray="1.6,0.7"/>
<path d="M386.9,163.3L389.3,163.3L388.1,161.2Z" fill="#6aaad6" stroke="none" stroke-width="0.7" />
<text font-size="6.4" transform="translate(394.8 164.5) scale(1 1.13)">NK cell</text>
<line x1="383.8" y1="170.5" x2="392.3" y2="170.5" stroke="#9cc79c" stroke-width="0.9" stroke-dasharray="1.6,0.7"/>
<circle cx="388.1" cy="170.5" r="0.92" fill="white" stroke="#5b9a5d" stroke-width="0.75"/>
<text font-size="6.4" transform="translate(394.8 172.7) scale(1 1.13)">Treg</text>
<line x1="472.9" y1="144.8" x2="472.9" y2="215.7" stroke="#231f20" stroke-width="0.7"/>
<line x1="470.1" y1="215.4" x2="472.9" y2="215.4" stroke="#231f20" stroke-width="0.7"/>
<text font-size="7.8" text-anchor="end" transform="translate(468.1 218) scale(1 1.13)">0</text>
<line x1="470.1" y1="191.97" x2="472.9" y2="191.97" stroke="#231f20" stroke-width="0.7"/>
<text font-size="7.8" text-anchor="end" transform="translate(468.1 194.57) scale(1 1.13)">10</text>
<line x1="470.1" y1="168.53" x2="472.9" y2="168.53" stroke="#231f20" stroke-width="0.7"/>
<text font-size="7.8" text-anchor="end" transform="translate(468.1 171.13) scale(1 1.13)">20</text>
<line x1="470.1" y1="145.1" x2="472.9" y2="145.1" stroke="#231f20" stroke-width="0.7"/>
<text font-size="7.8" text-anchor="end" transform="translate(468.1 147.7) scale(1 1.13)">30</text>
<text font-size="7.4" text-anchor="middle" transform="translate(457.3 180.1) rotate(-90) scale(1 1.13)">Max fold change</text>
<line x1="472.9" y1="215.4" x2="516.3" y2="215.4" stroke="#231f20" stroke-width="0.7"/>
<rect x="478.2" y="192.67" width="9.4" height="22.73" fill="#b3218c" stroke="#231f20" stroke-width="0.5"/>
<line x1="482.9" y1="215.4" x2="482.9" y2="217.8" stroke="#231f20" stroke-width="0.6"/>
<line x1="482.9" y1="212.12" x2="482.9" y2="173.22" stroke="#6d6e71" stroke-width="0.5"/>
<line x1="481.1" y1="212.12" x2="484.7" y2="212.12" stroke="#6d6e71" stroke-width="0.5"/>
<line x1="481.1" y1="173.22" x2="484.7" y2="173.22" stroke="#6d6e71" stroke-width="0.5"/>
<circle cx="482.9" cy="153.3" r="1.05" fill="#231f20" stroke="none" stroke-width="0.5"/>
<circle cx="482.9" cy="195.95" r="1.05" fill="#231f20" stroke="none" stroke-width="0.5"/>
<circle cx="480.5" cy="198.29" r="1.05" fill="#231f20" stroke="none" stroke-width="0.5"/>
<circle cx="485.1" cy="199.23" r="1.05" fill="#231f20" stroke="none" stroke-width="0.5"/>
<circle cx="480.5" cy="203.21" r="1.05" fill="#231f20" stroke="none" stroke-width="0.5"/>
<circle cx="485.1" cy="203.45" r="1.05" fill="#231f20" stroke="none" stroke-width="0.5"/>
<text font-size="7.7" text-anchor="end" transform="translate(484.6 224.9) rotate(-45) scale(1 1.13)">CD8<tspan font-size="4.8" dy="-2.7">+</tspan><tspan dy="2.7"> T cell</tspan></text>
<rect x="492.3" y="210.24" width="9.4" height="5.16" fill="#5e9bc9" stroke="#231f20" stroke-width="0.5"/>
<line x1="497" y1="215.4" x2="497" y2="217.8" stroke="#231f20" stroke-width="0.6"/>
<circle cx="494" cy="208.37" r="1.05" fill="#231f20" stroke="none" stroke-width="0.5"/>
<circle cx="500" cy="210.71" r="1.05" fill="#231f20" stroke="none" stroke-width="0.5"/>
<circle cx="497" cy="209.31" r="1.05" fill="#231f20" stroke="none" stroke-width="0.5"/>
<circle cx="495.5" cy="212.35" r="1.05" fill="#231f20" stroke="none" stroke-width="0.5"/>
<circle cx="498.5" cy="209.78" r="1.05" fill="#231f20" stroke="none" stroke-width="0.5"/>
<circle cx="494" cy="211.42" r="1.05" fill="#231f20" stroke="none" stroke-width="0.5"/>
<circle cx="500" cy="208.84" r="1.05" fill="#231f20" stroke="none" stroke-width="0.5"/>
<circle cx="497.2" cy="211.89" r="1.05" fill="#231f20" stroke="none" stroke-width="0.5"/>
<text font-size="7.7" text-anchor="end" transform="translate(498.7 224.9) rotate(-45) scale(1 1.13)">NK cell</text>
<rect x="506.4" y="211.18" width="9.4" height="4.22" fill="#5e9f58" stroke="#231f20" stroke-width="0.5"/>
<line x1="511.1" y1="215.4" x2="511.1" y2="217.8" stroke="#231f20" stroke-width="0.6"/>
<circle cx="508.1" cy="209.78" r="1.05" fill="#231f20" stroke="none" stroke-width="0.5"/>
<circle cx="514.1" cy="211.18" r="1.05" fill="#231f20" stroke="none" stroke-width="0.5"/>
<circle cx="511.1" cy="210.24" r="1.05" fill="#231f20" stroke="none" stroke-width="0.5"/>
<circle cx="509.6" cy="212.59" r="1.05" fill="#231f20" stroke="none" stroke-width="0.5"/>
<circle cx="512.6" cy="210.71" r="1.05" fill="#231f20" stroke="none" stroke-width="0.5"/>
<circle cx="508.1" cy="211.89" r="1.05" fill="#231f20" stroke="none" stroke-width="0.5"/>
<circle cx="514.1" cy="210.01" r="1.05" fill="#231f20" stroke="none" stroke-width="0.5"/>
<circle cx="511.3" cy="212.12" r="1.05" fill="#231f20" stroke="none" stroke-width="0.5"/>
<text font-size="7.7" text-anchor="end" transform="translate(512.8 224.9) rotate(-45) scale(1 1.13)">Treg</text>
<line x1="378.1" y1="136.4" x2="515.8" y2="136.4" stroke="#58595b" stroke-width="0.8"/>
<text font-size="7.3" text-anchor="middle" transform="translate(446.95 132.5) scale(1 1.13)">AB248 (0.2 mg/kg)</text>
<line x1="201.5" y1="274.7" x2="201.5" y2="345.6" stroke="#231f20" stroke-width="0.7"/>
<line x1="198.7" y1="345.3" x2="201.5" y2="345.3" stroke="#231f20" stroke-width="0.7"/>
<text font-size="7.8" text-anchor="end" transform="translate(196.7 347.9) scale(1 1.13)">0</text>
<line x1="198.7" y1="327.73" x2="201.5" y2="327.73" stroke="#231f20" stroke-width="0.7"/>
<text font-size="7.8" text-anchor="end" transform="translate(196.7 330.33) scale(1 1.13)">5</text>
<line x1="198.7" y1="310.15" x2="201.5" y2="310.15" stroke="#231f20" stroke-width="0.7"/>
<text font-size="7.8" text-anchor="end" transform="translate(196.7 312.75) scale(1 1.13)">10</text>
<line x1="198.7" y1="292.58" x2="201.5" y2="292.58" stroke="#231f20" stroke-width="0.7"/>
<text font-size="7.8" text-anchor="end" transform="translate(196.7 295.18) scale(1 1.13)">15</text>
<line x1="198.7" y1="275" x2="201.5" y2="275" stroke="#231f20" stroke-width="0.7"/>
<text font-size="7.8" text-anchor="end" transform="translate(196.7 277.6) scale(1 1.13)">20</text>
<text font-size="7.9" text-anchor="middle" transform="translate(182.9 309.2) rotate(-90) scale(1 1.13)">Cell count (×10<tspan font-size="4.8" dy="-2.7">3</tspan><tspan dy="2.7">/µL)</tspan></text>
<line x1="201.5" y1="345.3" x2="213.7" y2="345.3" stroke="#231f20" stroke-width="0.7"/>
<line x1="207.9" y1="345.3" x2="207.9" y2="347.9" stroke="#231f20" stroke-width="0.7"/>
<path d="M213.1,343.7 Q214.1,345.3 213.1,346.9" fill="none" stroke="#231f20" stroke-width="0.6" />
<line x1="216.5" y1="345.3" x2="273.1" y2="345.3" stroke="#231f20" stroke-width="0.7"/>
<path d="M216.7,343.7 Q215.7,345.3 216.7,346.9" fill="none" stroke="#231f20" stroke-width="0.6" />
<line x1="220.4" y1="345.3" x2="220.4" y2="348.1" stroke="#231f20" stroke-width="0.7"/>
<text font-size="7.6" text-anchor="middle" transform="translate(220.4 357.5) scale(1 1.13)">1</text>
<line x1="246.58" y1="345.3" x2="246.58" y2="348.1" stroke="#231f20" stroke-width="0.7"/>
<text font-size="7.6" text-anchor="middle" transform="translate(246.58 357.5) scale(1 1.13)">8</text>
<line x1="272.76" y1="345.3" x2="272.76" y2="348.1" stroke="#231f20" stroke-width="0.7"/>
<text font-size="7.6" text-anchor="middle" transform="translate(272.76 357.5) scale(1 1.13)">15</text>
<text font-size="5.25" text-anchor="end" transform="translate(207.7 356.9) scale(1 1)" style="stroke-width:0.04px">Baseline</text>
<line x1="220.4" y1="362.2" x2="220.4" y2="366.6" stroke="#231f20" stroke-width="0.7"/>
<path d="M220.4,360.5 L218.9,363.5 L221.9,363.5 Z" fill="#231f20" stroke="none" stroke-width="0.7" />
<line x1="246.58" y1="362.2" x2="246.58" y2="366.6" stroke="#231f20" stroke-width="0.7"/>
<path d="M246.58,360.5 L245.08,363.5 L248.08,363.5 Z" fill="#231f20" stroke="none" stroke-width="0.7" />
<text font-size="7.6" text-anchor="middle" transform="translate(236.8 366.5) scale(1 1.13)">Day</text>
<polyline points="202.8,344.95 210.1,344.95 213.5,345.3" fill="none" stroke="#5b9a5d" stroke-width="0.6" stroke-linejoin="round"/>
<polyline points="216.8,344.95 220.4,344.95 227.88,344.95 235.36,344.95 246.58,344.95 254.06,344.95 257.8,344.77 272.76,344.95" fill="none" stroke="#5b9a5d" stroke-width="0.6" stroke-linejoin="round"/>
<circle cx="202.8" cy="344.95" r="1.1" fill="white" stroke="#5b9a5d" stroke-width="0.75"/>
<circle cx="210.1" cy="344.95" r="1.1" fill="white" stroke="#5b9a5d" stroke-width="0.75"/>
<circle cx="227.88" cy="344.95" r="1.1" fill="white" stroke="#5b9a5d" stroke-width="0.75"/>
<circle cx="235.36" cy="344.95" r="1.1" fill="white" stroke="#5b9a5d" stroke-width="0.75"/>
<circle cx="246.58" cy="344.95" r="1.1" fill="white" stroke="#5b9a5d" stroke-width="0.75"/>
<circle cx="254.06" cy="344.95" r="1.1" fill="white" stroke="#5b9a5d" stroke-width="0.75"/>
<circle cx="257.8" cy="344.77" r="1.1" fill="white" stroke="#5b9a5d" stroke-width="0.75"/>
<circle cx="272.76" cy="344.95" r="1.1" fill="white" stroke="#5b9a5d" stroke-width="0.75"/>
<polyline points="202.8,343.19 210.1,343.54 213.5,343.89" fill="none" stroke="#6aaad6" stroke-width="0.6" stroke-linejoin="round" stroke-dasharray="1.2,0.8"/>
<polyline points="216.8,343.89 220.4,343.89 227.88,344.25 235.36,343.89 246.58,340.38 254.06,343.19 257.8,340.73 272.76,342.49" fill="none" stroke="#6aaad6" stroke-width="0.6" stroke-linejoin="round" stroke-dasharray="1.2,0.8"/>
<path d="M201.54,344.24L204.06,344.24L202.8,342.04Z" fill="#6aaad6" stroke="none" stroke-width="0.7" />
<path d="M208.84,344.59L211.36,344.59L210.1,342.39Z" fill="#6aaad6" stroke="none" stroke-width="0.7" />
<path d="M226.62,345.3L229.14,345.3L227.88,343.09Z" fill="#6aaad6" stroke="none" stroke-width="0.7" />
<path d="M234.1,344.94L236.62,344.94L235.36,342.74Z" fill="#6aaad6" stroke="none" stroke-width="0.7" />
<path d="M245.32,341.43L247.84,341.43L246.58,339.22Z" fill="#6aaad6" stroke="none" stroke-width="0.7" />
<path d="M252.8,344.24L255.32,344.24L254.06,342.04Z" fill="#6aaad6" stroke="none" stroke-width="0.7" />
<path d="M256.54,341.78L259.06,341.78L257.8,339.58Z" fill="#6aaad6" stroke="none" stroke-width="0.7" />
<path d="M271.5,343.54L274.02,343.54L272.76,341.33Z" fill="#6aaad6" stroke="none" stroke-width="0.7" />
<polyline points="202.8,340.38 210.1,341.79 213.5,342.14" fill="none" stroke="#c1237d" stroke-width="0.6" stroke-linejoin="round"/>
<polyline points="216.8,342.49 220.4,342.49 227.88,342.84 235.36,337.22 246.58,317.88 254.06,321.4 257.8,301.36 272.76,327.73" fill="none" stroke="#c1237d" stroke-width="0.6" stroke-linejoin="round"/>
<rect x="201.75" y="339.33" width="2.1" height="2.1" fill="#c1237d" stroke="none" stroke-width="0.6"/>
<rect x="209.05" y="340.74" width="2.1" height="2.1" fill="#c1237d" stroke="none" stroke-width="0.6"/>
<rect x="226.83" y="341.79" width="2.1" height="2.1" fill="#c1237d" stroke="none" stroke-width="0.6"/>
<rect x="234.31" y="336.17" width="2.1" height="2.1" fill="#c1237d" stroke="none" stroke-width="0.6"/>
<rect x="245.53" y="316.83" width="2.1" height="2.1" fill="#c1237d" stroke="none" stroke-width="0.6"/>
<rect x="253.01" y="320.35" width="2.1" height="2.1" fill="#c1237d" stroke="none" stroke-width="0.6"/>
<rect x="256.75" y="300.31" width="2.1" height="2.1" fill="#c1237d" stroke="none" stroke-width="0.6"/>
<rect x="271.71" y="326.68" width="2.1" height="2.1" fill="#c1237d" stroke="none" stroke-width="0.6"/>
<line x1="235.36" y1="338.97" x2="235.36" y2="335.46" stroke="#c1237d" stroke-width="0.55"/>
<line x1="234.06" y1="338.97" x2="236.66" y2="338.97" stroke="#c1237d" stroke-width="0.55"/>
<line x1="234.06" y1="335.46" x2="236.66" y2="335.46" stroke="#c1237d" stroke-width="0.55"/>
<line x1="246.58" y1="321.4" x2="246.58" y2="313.67" stroke="#c1237d" stroke-width="0.55"/>
<line x1="245.28" y1="321.4" x2="247.88" y2="321.4" stroke="#c1237d" stroke-width="0.55"/>
<line x1="245.28" y1="313.67" x2="247.88" y2="313.67" stroke="#c1237d" stroke-width="0.55"/>
<line x1="254.06" y1="325.97" x2="254.06" y2="316.48" stroke="#c1237d" stroke-width="0.55"/>
<line x1="252.76" y1="325.97" x2="255.36" y2="325.97" stroke="#c1237d" stroke-width="0.55"/>
<line x1="252.76" y1="316.48" x2="255.36" y2="316.48" stroke="#c1237d" stroke-width="0.55"/>
<line x1="257.8" y1="308.39" x2="257.8" y2="293.98" stroke="#c1237d" stroke-width="0.55"/>
<line x1="256.5" y1="308.39" x2="259.1" y2="308.39" stroke="#c1237d" stroke-width="0.55"/>
<line x1="256.5" y1="293.98" x2="259.1" y2="293.98" stroke="#c1237d" stroke-width="0.55"/>
<line x1="272.76" y1="330.19" x2="272.76" y2="325.26" stroke="#c1237d" stroke-width="0.55"/>
<line x1="271.46" y1="330.19" x2="274.06" y2="330.19" stroke="#c1237d" stroke-width="0.55"/>
<line x1="271.46" y1="325.26" x2="274.06" y2="325.26" stroke="#c1237d" stroke-width="0.55"/>
<line x1="211.9" y1="284" x2="220.4" y2="284" stroke="#e58fc0" stroke-width="0.9"/>
<rect x="215.2" y="283" width="2" height="2" fill="#c1237d" stroke="none" stroke-width="0.6"/>
<text font-size="6.4" transform="translate(222.9 286.2) scale(1 1.13)">CD8<tspan font-size="4.2" dy="-2.4">+</tspan><tspan dy="2.4"> T cell</tspan></text>
<line x1="211.9" y1="292.2" x2="220.4" y2="292.2" stroke="#a8cde8" stroke-width="0.9" stroke-dasharray="1.6,0.7"/>
<path d="M215,293.2L217.4,293.2L216.2,291.1Z" fill="#6aaad6" stroke="none" stroke-width="0.7" />
<text font-size="6.4" transform="translate(222.9 294.4) scale(1 1.13)">NK cell</text>
<line x1="211.9" y1="300.4" x2="220.4" y2="300.4" stroke="#9cc79c" stroke-width="0.9" stroke-dasharray="1.6,0.7"/>
<circle cx="216.2" cy="300.4" r="0.92" fill="white" stroke="#5b9a5d" stroke-width="0.75"/>
<text font-size="6.4" transform="translate(222.9 302.6) scale(1 1.13)">Treg</text>
<line x1="300.4" y1="274.7" x2="300.4" y2="345.6" stroke="#231f20" stroke-width="0.7"/>
<line x1="297.6" y1="345.3" x2="300.4" y2="345.3" stroke="#231f20" stroke-width="0.7"/>
<text font-size="7.8" text-anchor="end" transform="translate(295.6 347.9) scale(1 1.13)">0</text>
<line x1="297.6" y1="321.87" x2="300.4" y2="321.87" stroke="#231f20" stroke-width="0.7"/>
<text font-size="7.8" text-anchor="end" transform="translate(295.6 324.47) scale(1 1.13)">10</text>
<line x1="297.6" y1="298.43" x2="300.4" y2="298.43" stroke="#231f20" stroke-width="0.7"/>
<text font-size="7.8" text-anchor="end" transform="translate(295.6 301.03) scale(1 1.13)">20</text>
<line x1="297.6" y1="275" x2="300.4" y2="275" stroke="#231f20" stroke-width="0.7"/>
<text font-size="7.8" text-anchor="end" transform="translate(295.6 277.6) scale(1 1.13)">30</text>
<text font-size="7.4" text-anchor="middle" transform="translate(284.8 310) rotate(-90) scale(1 1.13)">Max fold change</text>
<line x1="300.4" y1="345.3" x2="343.8" y2="345.3" stroke="#231f20" stroke-width="0.7"/>
<rect x="305.7" y="312.96" width="9.4" height="32.34" fill="#b3218c" stroke="#231f20" stroke-width="0.5"/>
<line x1="310.4" y1="345.3" x2="310.4" y2="347.7" stroke="#231f20" stroke-width="0.6"/>
<line x1="310.4" y1="329.37" x2="310.4" y2="296.56" stroke="#6d6e71" stroke-width="0.5"/>
<line x1="308.6" y1="329.37" x2="312.2" y2="329.37" stroke="#6d6e71" stroke-width="0.5"/>
<line x1="308.6" y1="296.56" x2="312.2" y2="296.56" stroke="#6d6e71" stroke-width="0.5"/>
<circle cx="310.4" cy="282.97" r="1.05" fill="#231f20" stroke="none" stroke-width="0.5"/>
<circle cx="308.8" cy="300.31" r="1.05" fill="#231f20" stroke="none" stroke-width="0.5"/>
<circle cx="311" cy="301.95" r="1.05" fill="#231f20" stroke="none" stroke-width="0.5"/>
<circle cx="310.6" cy="307.34" r="1.05" fill="#231f20" stroke="none" stroke-width="0.5"/>
<circle cx="312.2" cy="315.31" r="1.05" fill="#231f20" stroke="none" stroke-width="0.5"/>
<circle cx="309.2" cy="321.87" r="1.05" fill="#231f20" stroke="none" stroke-width="0.5"/>
<circle cx="310.8" cy="329.6" r="1.05" fill="#231f20" stroke="none" stroke-width="0.5"/>
<circle cx="311.9" cy="330.77" r="1.05" fill="#231f20" stroke="none" stroke-width="0.5"/>
<circle cx="309.9" cy="335.93" r="1.05" fill="#231f20" stroke="none" stroke-width="0.5"/>
<text font-size="7.7" text-anchor="end" transform="translate(312.1 354.8) rotate(-45) scale(1 1.13)">CD8<tspan font-size="4.8" dy="-2.7">+</tspan><tspan dy="2.7"> T cell</tspan></text>
<rect x="319.8" y="339.91" width="9.4" height="5.39" fill="#5e9bc9" stroke="#231f20" stroke-width="0.5"/>
<line x1="324.5" y1="345.3" x2="324.5" y2="347.7" stroke="#231f20" stroke-width="0.6"/>
<circle cx="321.5" cy="336.86" r="1.05" fill="#231f20" stroke="none" stroke-width="0.5"/>
<circle cx="327.5" cy="340.14" r="1.05" fill="#231f20" stroke="none" stroke-width="0.5"/>
<circle cx="324.5" cy="338.27" r="1.05" fill="#231f20" stroke="none" stroke-width="0.5"/>
<circle cx="323" cy="342.02" r="1.05" fill="#231f20" stroke="none" stroke-width="0.5"/>
<circle cx="326" cy="338.74" r="1.05" fill="#231f20" stroke="none" stroke-width="0.5"/>
<circle cx="321.5" cy="341.08" r="1.05" fill="#231f20" stroke="none" stroke-width="0.5"/>
<circle cx="327.5" cy="337.57" r="1.05" fill="#231f20" stroke="none" stroke-width="0.5"/>
<circle cx="324.7" cy="342.49" r="1.05" fill="#231f20" stroke="none" stroke-width="0.5"/>
<circle cx="322.9" cy="339.44" r="1.05" fill="#231f20" stroke="none" stroke-width="0.5"/>
<circle cx="326.1" cy="340.61" r="1.05" fill="#231f20" stroke="none" stroke-width="0.5"/>
<text font-size="7.7" text-anchor="end" transform="translate(326.2 354.8) rotate(-45) scale(1 1.13)">NK cell</text>
<rect x="333.9" y="340.61" width="9.4" height="4.69" fill="#5e9f58" stroke="#231f20" stroke-width="0.5"/>
<line x1="338.6" y1="345.3" x2="338.6" y2="347.7" stroke="#231f20" stroke-width="0.6"/>
<circle cx="335.6" cy="338.74" r="1.05" fill="#231f20" stroke="none" stroke-width="0.5"/>
<circle cx="341.6" cy="340.61" r="1.05" fill="#231f20" stroke="none" stroke-width="0.5"/>
<circle cx="338.6" cy="339.21" r="1.05" fill="#231f20" stroke="none" stroke-width="0.5"/>
<circle cx="337.1" cy="342.25" r="1.05" fill="#231f20" stroke="none" stroke-width="0.5"/>
<circle cx="340.1" cy="339.68" r="1.05" fill="#231f20" stroke="none" stroke-width="0.5"/>
<circle cx="335.6" cy="341.32" r="1.05" fill="#231f20" stroke="none" stroke-width="0.5"/>
<circle cx="341.6" cy="338.97" r="1.05" fill="#231f20" stroke="none" stroke-width="0.5"/>
<circle cx="338.8" cy="342.72" r="1.05" fill="#231f20" stroke="none" stroke-width="0.5"/>
<circle cx="337" cy="340.14" r="1.05" fill="#231f20" stroke="none" stroke-width="0.5"/>
<text font-size="7.7" text-anchor="end" transform="translate(340.3 354.8) rotate(-45) scale(1 1.13)">Treg</text>
<line x1="204.2" y1="267.4" x2="342" y2="267.4" stroke="#58595b" stroke-width="0.8"/>
<text font-size="7.3" text-anchor="middle" transform="translate(273.1 262.7) scale(1 1.13)">AB248 (0.5 mg/kg)</text>
<line x1="373.4" y1="274.7" x2="373.4" y2="345.6" stroke="#231f20" stroke-width="0.7"/>
<line x1="370.6" y1="345.3" x2="373.4" y2="345.3" stroke="#231f20" stroke-width="0.7"/>
<text font-size="7.8" text-anchor="end" transform="translate(368.6 347.9) scale(1 1.13)">0</text>
<line x1="370.6" y1="333.58" x2="373.4" y2="333.58" stroke="#231f20" stroke-width="0.7"/>
<text font-size="7.8" text-anchor="end" transform="translate(368.6 336.18) scale(1 1.13)">5</text>
<line x1="370.6" y1="321.87" x2="373.4" y2="321.87" stroke="#231f20" stroke-width="0.7"/>
<text font-size="7.8" text-anchor="end" transform="translate(368.6 324.47) scale(1 1.13)">10</text>
<line x1="370.6" y1="310.15" x2="373.4" y2="310.15" stroke="#231f20" stroke-width="0.7"/>
<text font-size="7.8" text-anchor="end" transform="translate(368.6 312.75) scale(1 1.13)">15</text>
<line x1="370.6" y1="298.43" x2="373.4" y2="298.43" stroke="#231f20" stroke-width="0.7"/>
<text font-size="7.8" text-anchor="end" transform="translate(368.6 301.03) scale(1 1.13)">20</text>
<line x1="370.6" y1="286.72" x2="373.4" y2="286.72" stroke="#231f20" stroke-width="0.7"/>
<text font-size="7.8" text-anchor="end" transform="translate(368.6 289.32) scale(1 1.13)">25</text>
<line x1="370.6" y1="275" x2="373.4" y2="275" stroke="#231f20" stroke-width="0.7"/>
<text font-size="7.8" text-anchor="end" transform="translate(368.6 277.6) scale(1 1.13)">30</text>
<text font-size="7.9" text-anchor="middle" transform="translate(354.8 309.2) rotate(-90) scale(1 1.13)">Cell count (×10<tspan font-size="4.8" dy="-2.7">3</tspan><tspan dy="2.7">/µL)</tspan></text>
<line x1="373.4" y1="345.3" x2="385.6" y2="345.3" stroke="#231f20" stroke-width="0.7"/>
<line x1="379.8" y1="345.3" x2="379.8" y2="347.9" stroke="#231f20" stroke-width="0.7"/>
<path d="M385,343.7 Q386,345.3 385,346.9" fill="none" stroke="#231f20" stroke-width="0.6" />
<line x1="388.4" y1="345.3" x2="445" y2="345.3" stroke="#231f20" stroke-width="0.7"/>
<path d="M388.6,343.7 Q387.6,345.3 388.6,346.9" fill="none" stroke="#231f20" stroke-width="0.6" />
<line x1="392.3" y1="345.3" x2="392.3" y2="348.1" stroke="#231f20" stroke-width="0.7"/>
<text font-size="7.6" text-anchor="middle" transform="translate(392.3 357.5) scale(1 1.13)">1</text>
<line x1="418.48" y1="345.3" x2="418.48" y2="348.1" stroke="#231f20" stroke-width="0.7"/>
<text font-size="7.6" text-anchor="middle" transform="translate(418.48 357.5) scale(1 1.13)">8</text>
<line x1="444.66" y1="345.3" x2="444.66" y2="348.1" stroke="#231f20" stroke-width="0.7"/>
<text font-size="7.6" text-anchor="middle" transform="translate(444.66 357.5) scale(1 1.13)">15</text>
<text font-size="5.25" text-anchor="end" transform="translate(379.6 356.9) scale(1 1)" style="stroke-width:0.04px">Baseline</text>
<line x1="392.3" y1="362.2" x2="392.3" y2="366.6" stroke="#231f20" stroke-width="0.7"/>
<path d="M392.3,360.5 L390.8,363.5 L393.8,363.5 Z" fill="#231f20" stroke="none" stroke-width="0.7" />
<line x1="418.48" y1="362.2" x2="418.48" y2="366.6" stroke="#231f20" stroke-width="0.7"/>
<path d="M418.48,360.5 L416.98,363.5 L419.98,363.5 Z" fill="#231f20" stroke="none" stroke-width="0.7" />
<text font-size="7.6" text-anchor="middle" transform="translate(408.7 366.5) scale(1 1.13)">Day</text>
<polyline points="374.7,344.95 382,344.95 385.4,345.18" fill="none" stroke="#5b9a5d" stroke-width="0.6" stroke-linejoin="round"/>
<polyline points="388.7,344.95 392.3,344.95 399.78,344.95 407.26,344.95 418.48,344.95 425.96,344.95 429.7,344.83 444.66,344.95" fill="none" stroke="#5b9a5d" stroke-width="0.6" stroke-linejoin="round"/>
<circle cx="374.7" cy="344.95" r="1.1" fill="white" stroke="#5b9a5d" stroke-width="0.75"/>
<circle cx="382" cy="344.95" r="1.1" fill="white" stroke="#5b9a5d" stroke-width="0.75"/>
<circle cx="399.78" cy="344.95" r="1.1" fill="white" stroke="#5b9a5d" stroke-width="0.75"/>
<circle cx="407.26" cy="344.95" r="1.1" fill="white" stroke="#5b9a5d" stroke-width="0.75"/>
<circle cx="418.48" cy="344.95" r="1.1" fill="white" stroke="#5b9a5d" stroke-width="0.75"/>
<circle cx="425.96" cy="344.95" r="1.1" fill="white" stroke="#5b9a5d" stroke-width="0.75"/>
<circle cx="429.7" cy="344.83" r="1.1" fill="white" stroke="#5b9a5d" stroke-width="0.75"/>
<circle cx="444.66" cy="344.95" r="1.1" fill="white" stroke="#5b9a5d" stroke-width="0.75"/>
<polyline points="374.7,343.43 382,343.89 385.4,344.13" fill="none" stroke="#6aaad6" stroke-width="0.6" stroke-linejoin="round" stroke-dasharray="1.2,0.8"/>
<polyline points="388.7,344.13 392.3,344.13 399.78,344.36 407.26,344.36 418.48,342.25 425.96,343.89 429.7,342.02 444.66,343.66" fill="none" stroke="#6aaad6" stroke-width="0.6" stroke-linejoin="round" stroke-dasharray="1.2,0.8"/>
<path d="M373.44,344.48L375.96,344.48L374.7,342.27Z" fill="#6aaad6" stroke="none" stroke-width="0.7" />
<path d="M380.74,344.94L383.26,344.94L382,342.74Z" fill="#6aaad6" stroke="none" stroke-width="0.7" />
<path d="M398.52,345.41L401.04,345.41L399.78,343.21Z" fill="#6aaad6" stroke="none" stroke-width="0.7" />
<path d="M406,345.41L408.52,345.41L407.26,343.21Z" fill="#6aaad6" stroke="none" stroke-width="0.7" />
<path d="M417.22,343.3L419.74,343.3L418.48,341.1Z" fill="#6aaad6" stroke="none" stroke-width="0.7" />
<path d="M424.7,344.94L427.22,344.94L425.96,342.74Z" fill="#6aaad6" stroke="none" stroke-width="0.7" />
<path d="M428.44,343.07L430.96,343.07L429.7,340.86Z" fill="#6aaad6" stroke="none" stroke-width="0.7" />
<path d="M443.4,344.71L445.92,344.71L444.66,342.5Z" fill="#6aaad6" stroke="none" stroke-width="0.7" />
<polyline points="374.7,341.79 382,342.96 385.4,343.19" fill="none" stroke="#c1237d" stroke-width="0.6" stroke-linejoin="round"/>
<polyline points="388.7,343.66 392.3,343.66 399.78,344.13 407.26,344.13 418.48,322.57 425.96,327.73 429.7,293.75 444.66,331.24" fill="none" stroke="#c1237d" stroke-width="0.6" stroke-linejoin="round"/>
<rect x="373.65" y="340.74" width="2.1" height="2.1" fill="#c1237d" stroke="none" stroke-width="0.6"/>
<rect x="380.95" y="341.91" width="2.1" height="2.1" fill="#c1237d" stroke="none" stroke-width="0.6"/>
<rect x="398.73" y="343.08" width="2.1" height="2.1" fill="#c1237d" stroke="none" stroke-width="0.6"/>
<rect x="406.21" y="343.08" width="2.1" height="2.1" fill="#c1237d" stroke="none" stroke-width="0.6"/>
<rect x="417.43" y="321.52" width="2.1" height="2.1" fill="#c1237d" stroke="none" stroke-width="0.6"/>
<rect x="424.91" y="326.68" width="2.1" height="2.1" fill="#c1237d" stroke="none" stroke-width="0.6"/>
<rect x="428.65" y="292.7" width="2.1" height="2.1" fill="#c1237d" stroke="none" stroke-width="0.6"/>
<rect x="443.61" y="330.19" width="2.1" height="2.1" fill="#c1237d" stroke="none" stroke-width="0.6"/>
<line x1="418.48" y1="326.08" x2="418.48" y2="317.88" stroke="#c1237d" stroke-width="0.55"/>
<line x1="417.18" y1="326.08" x2="419.78" y2="326.08" stroke="#c1237d" stroke-width="0.55"/>
<line x1="417.18" y1="317.88" x2="419.78" y2="317.88" stroke="#c1237d" stroke-width="0.55"/>
<line x1="425.96" y1="331.24" x2="425.96" y2="323.74" stroke="#c1237d" stroke-width="0.55"/>
<line x1="424.66" y1="331.24" x2="427.26" y2="331.24" stroke="#c1237d" stroke-width="0.55"/>
<line x1="424.66" y1="323.74" x2="427.26" y2="323.74" stroke="#c1237d" stroke-width="0.55"/>
<line x1="429.7" y1="304.29" x2="429.7" y2="283.2" stroke="#c1237d" stroke-width="0.55"/>
<line x1="428.4" y1="304.29" x2="431" y2="304.29" stroke="#c1237d" stroke-width="0.55"/>
<line x1="428.4" y1="283.2" x2="431" y2="283.2" stroke="#c1237d" stroke-width="0.55"/>
<line x1="444.66" y1="332.41" x2="444.66" y2="328.9" stroke="#c1237d" stroke-width="0.55"/>
<line x1="443.36" y1="332.41" x2="445.96" y2="332.41" stroke="#c1237d" stroke-width="0.55"/>
<line x1="443.36" y1="328.9" x2="445.96" y2="328.9" stroke="#c1237d" stroke-width="0.55"/>
<line x1="381.7" y1="284" x2="390.2" y2="284" stroke="#e58fc0" stroke-width="0.9"/>
<rect x="385" y="283" width="2" height="2" fill="#c1237d" stroke="none" stroke-width="0.6"/>
<text font-size="6.4" transform="translate(392.7 286.2) scale(1 1.13)">CD8<tspan font-size="4.2" dy="-2.4">+</tspan><tspan dy="2.4"> T cell</tspan></text>
<line x1="381.7" y1="292.2" x2="390.2" y2="292.2" stroke="#a8cde8" stroke-width="0.9" stroke-dasharray="1.6,0.7"/>
<path d="M384.8,293.2L387.2,293.2L386,291.1Z" fill="#6aaad6" stroke="none" stroke-width="0.7" />
<text font-size="6.4" transform="translate(392.7 294.4) scale(1 1.13)">NK cell</text>
<line x1="381.7" y1="300.4" x2="390.2" y2="300.4" stroke="#9cc79c" stroke-width="0.9" stroke-dasharray="1.6,0.7"/>
<circle cx="386" cy="300.4" r="0.92" fill="white" stroke="#5b9a5d" stroke-width="0.75"/>
<text font-size="6.4" transform="translate(392.7 302.6) scale(1 1.13)">Treg</text>
<line x1="473.3" y1="274.7" x2="473.3" y2="345.6" stroke="#231f20" stroke-width="0.7"/>
<line x1="470.5" y1="345.3" x2="473.3" y2="345.3" stroke="#231f20" stroke-width="0.7"/>
<text font-size="7.8" text-anchor="end" transform="translate(468.5 347.9) scale(1 1.13)">0</text>
<line x1="470.5" y1="321.87" x2="473.3" y2="321.87" stroke="#231f20" stroke-width="0.7"/>
<text font-size="7.8" text-anchor="end" transform="translate(468.5 324.47) scale(1 1.13)">10</text>
<line x1="470.5" y1="298.43" x2="473.3" y2="298.43" stroke="#231f20" stroke-width="0.7"/>
<text font-size="7.8" text-anchor="end" transform="translate(468.5 301.03) scale(1 1.13)">20</text>
<line x1="470.5" y1="275" x2="473.3" y2="275" stroke="#231f20" stroke-width="0.7"/>
<text font-size="7.8" text-anchor="end" transform="translate(468.5 277.6) scale(1 1.13)">30</text>
<text font-size="7.4" text-anchor="middle" transform="translate(457.7 310) rotate(-90) scale(1 1.13)">Max fold change</text>
<line x1="473.3" y1="345.3" x2="516.7" y2="345.3" stroke="#231f20" stroke-width="0.7"/>
<rect x="478.6" y="298.43" width="9.4" height="46.87" fill="#b3218c" stroke="#231f20" stroke-width="0.5"/>
<line x1="483.3" y1="345.3" x2="483.3" y2="347.7" stroke="#231f20" stroke-width="0.6"/>
<line x1="483.3" y1="319.52" x2="483.3" y2="277.34" stroke="#6d6e71" stroke-width="0.5"/>
<line x1="481.5" y1="319.52" x2="485.1" y2="319.52" stroke="#6d6e71" stroke-width="0.5"/>
<line x1="481.5" y1="277.34" x2="485.1" y2="277.34" stroke="#6d6e71" stroke-width="0.5"/>
<circle cx="483.3" cy="276.17" r="1.05" fill="#231f20" stroke="none" stroke-width="0.5"/>
<circle cx="481.7" cy="282.5" r="1.05" fill="#231f20" stroke="none" stroke-width="0.5"/>
<circle cx="483.9" cy="286.72" r="1.05" fill="#231f20" stroke="none" stroke-width="0.5"/>
<circle cx="483.5" cy="294.68" r="1.05" fill="#231f20" stroke="none" stroke-width="0.5"/>
<circle cx="485.1" cy="294.68" r="1.05" fill="#231f20" stroke="none" stroke-width="0.5"/>
<circle cx="482.1" cy="314.84" r="1.05" fill="#231f20" stroke="none" stroke-width="0.5"/>
<circle cx="483.7" cy="325.15" r="1.05" fill="#231f20" stroke="none" stroke-width="0.5"/>
<circle cx="484.8" cy="333.11" r="1.05" fill="#231f20" stroke="none" stroke-width="0.5"/>
<text font-size="7.7" text-anchor="end" transform="translate(485 354.8) rotate(-45) scale(1 1.13)">CD8<tspan font-size="4.8" dy="-2.7">+</tspan><tspan dy="2.7"> T cell</tspan></text>
<rect x="492.7" y="340.38" width="9.4" height="4.92" fill="#5e9bc9" stroke="#231f20" stroke-width="0.5"/>
<line x1="497.4" y1="345.3" x2="497.4" y2="347.7" stroke="#231f20" stroke-width="0.6"/>
<circle cx="494.4" cy="336.16" r="1.05" fill="#231f20" stroke="none" stroke-width="0.5"/>
<circle cx="500.4" cy="340.14" r="1.05" fill="#231f20" stroke="none" stroke-width="0.5"/>
<circle cx="497.4" cy="338.04" r="1.05" fill="#231f20" stroke="none" stroke-width="0.5"/>
<circle cx="495.9" cy="342.02" r="1.05" fill="#231f20" stroke="none" stroke-width="0.5"/>
<circle cx="498.9" cy="338.74" r="1.05" fill="#231f20" stroke="none" stroke-width="0.5"/>
<circle cx="494.4" cy="341.08" r="1.05" fill="#231f20" stroke="none" stroke-width="0.5"/>
<circle cx="500.4" cy="337.33" r="1.05" fill="#231f20" stroke="none" stroke-width="0.5"/>
<circle cx="497.6" cy="342.49" r="1.05" fill="#231f20" stroke="none" stroke-width="0.5"/>
<circle cx="495.8" cy="339.44" r="1.05" fill="#231f20" stroke="none" stroke-width="0.5"/>
<circle cx="499" cy="340.61" r="1.05" fill="#231f20" stroke="none" stroke-width="0.5"/>
<text font-size="7.7" text-anchor="end" transform="translate(499.1 354.8) rotate(-45) scale(1 1.13)">NK cell</text>
<rect x="506.8" y="340.85" width="9.4" height="4.45" fill="#5e9f58" stroke="#231f20" stroke-width="0.5"/>
<line x1="511.5" y1="345.3" x2="511.5" y2="347.7" stroke="#231f20" stroke-width="0.6"/>
<circle cx="508.5" cy="338.5" r="1.05" fill="#231f20" stroke="none" stroke-width="0.5"/>
<circle cx="514.5" cy="340.61" r="1.05" fill="#231f20" stroke="none" stroke-width="0.5"/>
<circle cx="511.5" cy="339.21" r="1.05" fill="#231f20" stroke="none" stroke-width="0.5"/>
<circle cx="510" cy="342.25" r="1.05" fill="#231f20" stroke="none" stroke-width="0.5"/>
<circle cx="513" cy="339.68" r="1.05" fill="#231f20" stroke="none" stroke-width="0.5"/>
<circle cx="508.5" cy="341.32" r="1.05" fill="#231f20" stroke="none" stroke-width="0.5"/>
<circle cx="514.5" cy="338.74" r="1.05" fill="#231f20" stroke="none" stroke-width="0.5"/>
<circle cx="511.7" cy="342.72" r="1.05" fill="#231f20" stroke="none" stroke-width="0.5"/>
<circle cx="509.9" cy="340.14" r="1.05" fill="#231f20" stroke="none" stroke-width="0.5"/>
<text font-size="7.7" text-anchor="end" transform="translate(513.2 354.8) rotate(-45) scale(1 1.13)">Treg</text>
<line x1="377.5" y1="267.4" x2="515.5" y2="267.4" stroke="#58595b" stroke-width="0.8"/>
<text font-size="7.3" text-anchor="middle" transform="translate(446.5 262.7) scale(1 1.13)">AB248 (1 mg/kg)</text>
<text font-size="9.8" font-weight="bold" style="stroke-width:0.3px" transform="translate(1.5 279.2) scale(1 1.13)">F</text>
<line x1="27" y1="287.5" x2="27" y2="358.9" stroke="#231f20" stroke-width="0.7"/>
<line x1="24.1" y1="358.6" x2="27" y2="358.6" stroke="#231f20" stroke-width="0.7"/>
<text font-size="7.6" text-anchor="end" transform="translate(21.6 361.2) scale(1 1.13)">0</text>
<line x1="24.1" y1="340.9" x2="27" y2="340.9" stroke="#231f20" stroke-width="0.7"/>
<text font-size="7.6" text-anchor="end" transform="translate(21.6 343.5) scale(1 1.13)">4</text>
<line x1="24.1" y1="323.2" x2="27" y2="323.2" stroke="#231f20" stroke-width="0.7"/>
<text font-size="7.6" text-anchor="end" transform="translate(21.6 325.8) scale(1 1.13)">8</text>
<line x1="24.1" y1="305.5" x2="27" y2="305.5" stroke="#231f20" stroke-width="0.7"/>
<text font-size="7.6" text-anchor="end" transform="translate(21.6 308.1) scale(1 1.13)">12</text>
<line x1="24.1" y1="287.8" x2="27" y2="287.8" stroke="#231f20" stroke-width="0.7"/>
<text font-size="7.6" text-anchor="end" transform="translate(21.6 290.4) scale(1 1.13)">16</text>
<text font-size="7.6" text-anchor="middle" transform="translate(7.8 322.6) rotate(-90) scale(1 1.13)">Cell count (×10<tspan font-size="4.8" dy="-2.7">3</tspan><tspan dy="2.7">/µL)</tspan></text>
<line x1="27" y1="358.6" x2="37" y2="358.6" stroke="#231f20" stroke-width="0.7"/>
<line x1="31.8" y1="358.6" x2="31.8" y2="361.2" stroke="#231f20" stroke-width="0.7"/>
<path d="M36.4,357 Q37.4,358.6 36.4,360.2" fill="none" stroke="#231f20" stroke-width="0.6" />
<line x1="42.2" y1="358.6" x2="133.2" y2="358.6" stroke="#231f20" stroke-width="0.7"/>
<path d="M42.4,357 Q41.4,358.6 42.4,360.2" fill="none" stroke="#231f20" stroke-width="0.6" />
<line x1="42.6" y1="358.6" x2="42.6" y2="361.4" stroke="#231f20" stroke-width="0.7"/>
<text font-size="7.6" text-anchor="middle" transform="translate(42.6 370.8) scale(1 1.13)">1</text>
<line x1="65.32" y1="358.6" x2="65.32" y2="361.4" stroke="#231f20" stroke-width="0.7"/>
<text font-size="7.6" text-anchor="middle" transform="translate(65.32 370.8) scale(1 1.13)">8</text>
<line x1="88.04" y1="358.6" x2="88.04" y2="361.4" stroke="#231f20" stroke-width="0.7"/>
<text font-size="7.6" text-anchor="middle" transform="translate(88.04 370.8) scale(1 1.13)">15</text>
<line x1="110.77" y1="358.6" x2="110.77" y2="361.4" stroke="#231f20" stroke-width="0.7"/>
<text font-size="7.6" text-anchor="middle" transform="translate(110.77 370.8) scale(1 1.13)">22</text>
<line x1="133.49" y1="358.6" x2="133.49" y2="361.4" stroke="#231f20" stroke-width="0.7"/>
<text font-size="7.6" text-anchor="middle" transform="translate(133.49 370.8) scale(1 1.13)">29</text>
<text font-size="5.25" text-anchor="end" transform="translate(31.7 370) scale(1 1)" style="stroke-width:0.04px">Baseline</text>
<line x1="42.6" y1="375.7" x2="42.6" y2="380.8" stroke="#231f20" stroke-width="0.7"/>
<path d="M42.6,374 L41.1,377 L44.1,377 Z" fill="#231f20" stroke="none" stroke-width="0.7" />
<line x1="65.32" y1="375.7" x2="65.32" y2="380.8" stroke="#231f20" stroke-width="0.7"/>
<path d="M65.32,374 L63.82,377 L66.82,377 Z" fill="#231f20" stroke="none" stroke-width="0.7" />
<line x1="88.04" y1="375.7" x2="88.04" y2="380.8" stroke="#231f20" stroke-width="0.7"/>
<path d="M88.04,374 L86.54,377 L89.54,377 Z" fill="#231f20" stroke="none" stroke-width="0.7" />
<line x1="110.77" y1="375.7" x2="110.77" y2="380.8" stroke="#231f20" stroke-width="0.7"/>
<path d="M110.77,374 L109.27,377 L112.27,377 Z" fill="#231f20" stroke="none" stroke-width="0.7" />
<text font-size="7.6" text-anchor="middle" transform="translate(77.4 380.9) scale(1 1.13)">Day</text>
<line x1="31.8" y1="358.07" x2="36.5" y2="358.07" stroke="#3f8f3f" stroke-width="0.6"/>
<polyline points="42.6,358.07 55.58,358.07 62.08,358.07 65.32,358.07 78.31,358.07 84.8,358.07 88.04,358.07 101.03,358.07 107.52,358.07 110.77,358.07 123.75,358.07 130.24,358.07 133.49,358.07" fill="none" stroke="#3f8f3f" stroke-width="0.7" stroke-linejoin="round"/>
<circle cx="31.8" cy="358.07" r="1.3" fill="#3f8f3f" stroke="none" stroke-width="0.5"/>
<circle cx="55.58" cy="358.07" r="1.3" fill="#3f8f3f" stroke="none" stroke-width="0.5"/>
<circle cx="62.08" cy="358.07" r="1.3" fill="#3f8f3f" stroke="none" stroke-width="0.5"/>
<circle cx="78.31" cy="358.07" r="1.3" fill="#3f8f3f" stroke="none" stroke-width="0.5"/>
<circle cx="84.8" cy="358.07" r="1.3" fill="#3f8f3f" stroke="none" stroke-width="0.5"/>
<circle cx="101.03" cy="358.07" r="1.3" fill="#3f8f3f" stroke="none" stroke-width="0.5"/>
<circle cx="107.52" cy="358.07" r="1.3" fill="#3f8f3f" stroke="none" stroke-width="0.5"/>
<circle cx="123.75" cy="358.07" r="1.3" fill="#3f8f3f" stroke="none" stroke-width="0.5"/>
<circle cx="130.24" cy="358.07" r="1.3" fill="#3f8f3f" stroke="none" stroke-width="0.5"/>
<line x1="31.8" y1="357.27" x2="36.5" y2="357.27" stroke="#6aaad6" stroke-width="0.6"/>
<polyline points="42.6,357.27 55.58,357.27 62.08,352.85 65.32,351.08 78.31,351.08 84.8,353.73 88.04,353.73 101.03,353.73 107.52,353.29 110.77,354.18 123.75,354.18 130.24,354.18 133.49,354.62" fill="none" stroke="#6aaad6" stroke-width="0.7" stroke-linejoin="round"/>
<path d="M30.24,358.57L33.36,358.57L31.8,355.84Z" fill="#6aaad6" stroke="none" stroke-width="0.7" />
<path d="M54.02,358.57L57.14,358.57L55.58,355.84Z" fill="#6aaad6" stroke="none" stroke-width="0.7" />
<path d="M60.52,354.15L63.64,354.15L62.08,351.42Z" fill="#6aaad6" stroke="none" stroke-width="0.7" />
<path d="M63.76,352.38L66.88,352.38L65.32,349.65Z" fill="#6aaad6" stroke="none" stroke-width="0.7" />
<path d="M76.75,352.38L79.87,352.38L78.31,349.65Z" fill="#6aaad6" stroke="none" stroke-width="0.7" />
<path d="M83.24,355.03L86.36,355.03L84.8,352.3Z" fill="#6aaad6" stroke="none" stroke-width="0.7" />
<path d="M86.48,355.03L89.6,355.03L88.04,352.3Z" fill="#6aaad6" stroke="none" stroke-width="0.7" />
<path d="M99.47,355.03L102.59,355.03L101.03,352.3Z" fill="#6aaad6" stroke="none" stroke-width="0.7" />
<path d="M105.96,354.59L109.08,354.59L107.52,351.86Z" fill="#6aaad6" stroke="none" stroke-width="0.7" />
<path d="M109.21,355.48L112.33,355.48L110.77,352.75Z" fill="#6aaad6" stroke="none" stroke-width="0.7" />
<path d="M122.19,355.48L125.31,355.48L123.75,352.75Z" fill="#6aaad6" stroke="none" stroke-width="0.7" />
<path d="M128.68,355.48L131.8,355.48L130.24,352.75Z" fill="#6aaad6" stroke="none" stroke-width="0.7" />
<path d="M131.93,355.92L135.05,355.92L133.49,353.19Z" fill="#6aaad6" stroke="none" stroke-width="0.7" />
<line x1="31.8" y1="354.18" x2="36.5" y2="354.18" stroke="#c1237d" stroke-width="0.6"/>
<polyline points="42.6,354.62 55.58,355.06 62.08,321.87 65.32,311.25 78.31,296.21 84.8,328.95 88.04,328.95 101.03,298.86 107.52,312.58 110.77,309.93 123.75,289.13 130.24,299.75 133.49,308.16" fill="none" stroke="#c1237d" stroke-width="0.7" stroke-linejoin="round"/>
<rect x="30.5" y="352.88" width="2.6" height="2.6" fill="#c1237d" stroke="none" stroke-width="0.6"/>
<rect x="54.28" y="353.76" width="2.6" height="2.6" fill="#c1237d" stroke="none" stroke-width="0.6"/>
<rect x="60.78" y="320.57" width="2.6" height="2.6" fill="#c1237d" stroke="none" stroke-width="0.6"/>
<rect x="64.02" y="309.95" width="2.6" height="2.6" fill="#c1237d" stroke="none" stroke-width="0.6"/>
<rect x="77.01" y="294.91" width="2.6" height="2.6" fill="#c1237d" stroke="none" stroke-width="0.6"/>
<rect x="83.5" y="327.65" width="2.6" height="2.6" fill="#c1237d" stroke="none" stroke-width="0.6"/>
<rect x="86.74" y="327.65" width="2.6" height="2.6" fill="#c1237d" stroke="none" stroke-width="0.6"/>
<rect x="99.73" y="297.56" width="2.6" height="2.6" fill="#c1237d" stroke="none" stroke-width="0.6"/>
<rect x="106.22" y="311.28" width="2.6" height="2.6" fill="#c1237d" stroke="none" stroke-width="0.6"/>
<rect x="109.47" y="308.62" width="2.6" height="2.6" fill="#c1237d" stroke="none" stroke-width="0.6"/>
<rect x="122.45" y="287.83" width="2.6" height="2.6" fill="#c1237d" stroke="none" stroke-width="0.6"/>
<rect x="128.94" y="298.45" width="2.6" height="2.6" fill="#c1237d" stroke="none" stroke-width="0.6"/>
<rect x="132.19" y="306.86" width="2.6" height="2.6" fill="#c1237d" stroke="none" stroke-width="0.6"/>
<line x1="99.1" y1="326.2" x2="106.6" y2="326.2" stroke="#c1237d" stroke-width="0.6"/>
<rect x="101.6" y="324.9" width="2.6" height="2.6" fill="#c1237d" stroke="none" stroke-width="0.6"/>
<text font-size="7" transform="translate(109.2 328.7) scale(1 1.13)">CD8<tspan font-size="4.6" dy="-2.6">+</tspan><tspan dy="2.6"> T cell</tspan></text>
<line x1="99.1" y1="335.35" x2="106.6" y2="335.35" stroke="#6aaad6" stroke-width="0.6"/>
<path d="M101.34,336.65L104.46,336.65L102.9,333.92Z" fill="#6aaad6" stroke="none" stroke-width="0.7" />
<text font-size="7" transform="translate(109.2 337.85) scale(1 1.13)">NK cell</text>
<line x1="99.1" y1="344.5" x2="106.6" y2="344.5" stroke="#3f8f3f" stroke-width="0.6"/>
<circle cx="102.9" cy="344.5" r="1.3" fill="#3f8f3f" stroke="none" stroke-width="0.5"/>
<text font-size="7" transform="translate(109.2 347) scale(1 1.13)">Treg</text>
</svg></body></html>
